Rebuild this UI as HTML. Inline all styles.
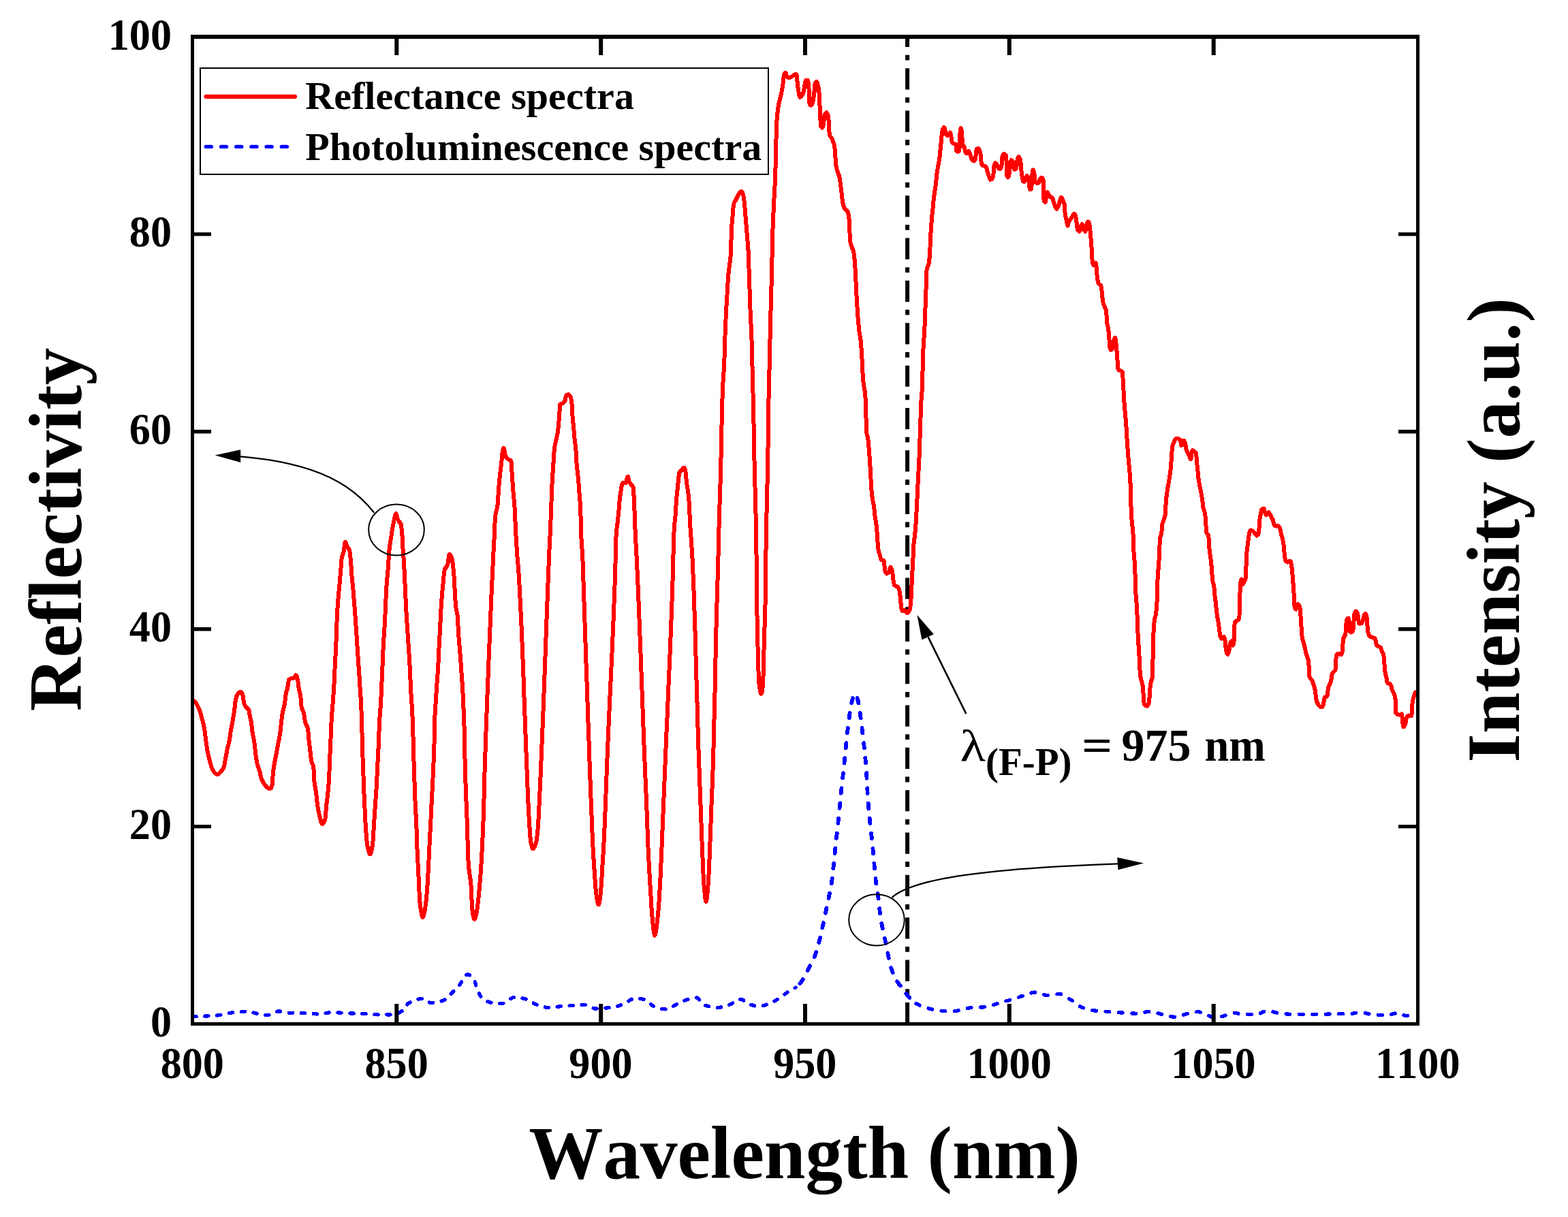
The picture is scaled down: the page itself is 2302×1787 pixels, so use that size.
<!DOCTYPE html>
<html lang="en"><head><meta charset="utf-8"><title>Reflectance and photoluminescence spectra</title>
<style>
html,body{margin:0;padding:0;background:#fff;}
body{width:2302px;height:1787px;overflow:hidden;}
svg{display:block;}
text{font-family:'Liberation Serif','Times New Roman',serif;font-weight:bold;fill:#000;font-kerning:none;}
.tick{font-size:62.2px;}
.leg{font-size:58px;letter-spacing:0.07px;}
.title{font-size:109.2px;}
</style></head><body>
<svg width="2302" height="1787" viewBox="0 0 2302 1787">
<rect x="0" y="0" width="2302" height="1787" fill="#fff"/>
<line x1="1332.1" y1="57" x2="1332.1" y2="1501" stroke="#000" stroke-width="6" stroke-dasharray="31.2 11.6 7.8 11.75" stroke-dashoffset="19.15"/>
<path d="M282.7 1492.6L284.7 1492.6L286.7 1492.6L288.7 1492.6L290.7 1492.6L292.7 1492.5L294.7 1492.4L296.7 1492.3L298.7 1492.2L300.7 1492.1L302.7 1492.0L304.7 1491.9L306.7 1491.8L308.7 1491.7L310.7 1491.5L312.7 1491.4L314.7 1491.3L316.7 1491.1L318.7 1491.0L320.7 1490.8L322.7 1490.6L324.7 1490.3L326.7 1490.0L328.7 1489.6L330.7 1489.2L332.7 1488.7L334.7 1488.2L336.7 1487.7L338.7 1487.3L340.7 1486.9L342.7 1486.6L344.7 1486.4L346.7 1486.2L348.7 1486.0L350.7 1485.9L352.7 1485.7L354.7 1485.6L356.7 1485.4L358.7 1485.3L360.7 1485.3L362.7 1485.2L364.7 1485.2L366.7 1485.5L368.7 1485.9L370.7 1486.5L372.7 1487.1L374.7 1487.7L376.7 1488.3L378.7 1488.8L380.7 1489.1L382.7 1489.4L384.7 1489.7L386.7 1489.9L388.7 1490.2L390.7 1490.3L392.7 1490.4L394.7 1490.4L396.7 1490.0L398.7 1489.2L400.7 1488.1L402.7 1487.1L404.7 1486.1L406.7 1485.3L408.7 1485.0L410.7 1485.0L412.7 1485.3L414.7 1485.7L416.7 1486.2L418.7 1486.6L420.7 1487.0L422.7 1487.3L424.7 1487.4L426.7 1487.5L428.7 1487.5L430.7 1487.5L432.7 1487.5L434.7 1487.6L436.7 1487.6L438.7 1487.6L440.7 1487.6L442.7 1487.6L444.7 1487.6L446.7 1487.7L448.7 1487.7L450.7 1487.8L452.7 1487.9L454.7 1488.1L456.7 1488.3L458.7 1488.4L460.7 1488.6L462.7 1488.8L464.7 1488.9L466.7 1489.0L468.7 1489.1L470.7 1489.0L472.7 1488.8L474.7 1488.5L476.7 1488.1L478.7 1487.6L480.7 1487.2L482.7 1486.9L484.7 1486.6L486.7 1486.6L488.7 1486.6L490.7 1486.7L492.7 1486.8L494.7 1486.9L496.7 1487.0L498.7 1487.1L500.7 1487.2L502.7 1487.3L504.7 1487.4L506.7 1487.5L508.7 1487.6L510.7 1487.7L512.7 1487.8L514.7 1487.9L516.7 1488.0L518.7 1488.1L520.7 1488.1L522.7 1488.2L524.7 1488.2L526.7 1488.3L528.7 1488.3L530.7 1488.4L532.7 1488.4L534.7 1488.5L536.7 1488.6L538.7 1488.7L540.7 1488.9L542.7 1489.0L544.7 1489.2L546.7 1489.4L548.7 1489.6L550.7 1489.7L552.7 1489.8L554.7 1489.9L556.7 1489.9L558.7 1489.9L560.7 1489.9L562.7 1489.9L564.7 1489.9L566.7 1489.9L568.7 1489.9L570.7 1489.9L572.7 1489.9L574.7 1489.9L576.7 1489.9L578.7 1489.7L580.7 1489.3L582.7 1488.6L584.7 1487.7L586.7 1486.6L588.7 1485.4L590.7 1484.2L592.7 1482.1L594.7 1479.3L596.7 1476.3L598.7 1473.9L600.7 1472.5L602.7 1471.4L604.7 1470.4L606.7 1469.5L608.7 1468.7L610.7 1468.0L612.7 1467.4L614.7 1467.0L616.7 1466.7L618.7 1466.5L620.7 1466.7L622.7 1467.5L624.7 1468.6L626.7 1470.0L628.7 1471.2L630.7 1472.1L632.7 1472.6L634.7 1472.5L636.7 1472.4L638.7 1472.2L640.7 1471.9L642.7 1471.5L644.7 1471.0L646.7 1470.5L648.7 1469.9L650.7 1469.3L652.7 1468.4L654.7 1466.9L656.7 1465.0L658.7 1463.0L660.7 1460.8L662.7 1458.8L664.7 1456.8L666.7 1454.8L668.7 1452.8L670.7 1450.7L672.7 1448.4L674.7 1446.1L676.7 1443.2L678.7 1439.8L680.7 1436.5L682.7 1433.5L684.7 1431.5L686.7 1430.8L688.7 1431.3L690.7 1432.6L692.7 1434.6L694.7 1437.0L696.7 1440.1L698.7 1446.5L700.7 1452.4L702.7 1457.0L704.7 1461.3L706.7 1464.6L708.7 1466.7L710.7 1468.0L712.7 1469.1L714.7 1470.1L716.7 1470.9L718.7 1471.6L720.7 1472.1L722.7 1472.5L724.7 1472.7L726.7 1472.9L728.7 1473.0L730.7 1473.2L732.7 1473.3L734.7 1473.3L736.7 1473.4L738.7 1473.4L740.7 1472.9L742.7 1471.8L744.7 1470.4L746.7 1468.9L748.7 1467.3L750.7 1465.9L752.7 1464.9L754.7 1464.4L756.7 1464.4L758.7 1464.5L760.7 1464.7L762.7 1465.0L764.7 1465.4L766.7 1465.8L768.7 1466.2L770.7 1466.7L772.7 1467.3L774.7 1467.9L776.7 1468.9L778.7 1470.1L780.7 1471.4L782.7 1472.7L784.7 1473.8L786.7 1474.7L788.7 1475.5L790.7 1476.2L792.7 1476.9L794.7 1477.6L796.7 1478.2L798.7 1478.7L800.7 1479.1L802.7 1479.4L804.7 1479.5L806.7 1479.4L808.7 1479.3L810.7 1479.2L812.7 1479.0L814.7 1478.7L816.7 1478.5L818.7 1478.2L820.7 1478.0L822.7 1477.8L824.7 1477.6L826.7 1477.4L828.7 1477.2L830.7 1477.1L832.7 1476.9L834.7 1476.7L836.7 1476.6L838.7 1476.4L840.7 1476.3L842.7 1476.2L844.7 1476.1L846.7 1476.0L848.7 1475.9L850.7 1475.8L852.7 1475.7L854.7 1475.6L856.7 1475.6L858.7 1475.6L860.7 1475.9L862.7 1476.6L864.7 1477.5L866.7 1478.5L868.7 1479.4L870.7 1480.3L872.7 1480.9L874.7 1481.1L876.7 1480.8L878.7 1480.6L880.7 1480.5L882.7 1480.4L884.7 1480.3L886.7 1480.2L888.7 1480.1L890.7 1480.0L892.7 1479.8L894.7 1479.7L896.7 1479.4L898.7 1479.1L900.7 1478.8L902.7 1478.3L904.7 1477.9L906.7 1477.3L908.7 1476.8L910.7 1476.2L912.7 1475.5L914.7 1474.9L916.7 1474.1L918.7 1473.1L920.7 1471.7L922.7 1470.3L924.7 1468.8L926.7 1467.5L928.7 1466.6L930.7 1466.0L932.7 1465.9L934.7 1466.0L936.7 1466.2L938.7 1466.4L940.7 1466.6L942.7 1466.9L944.7 1467.3L946.7 1467.7L948.7 1468.7L950.7 1470.1L952.7 1471.9L954.7 1473.7L956.7 1475.5L958.7 1476.9L960.7 1477.9L962.7 1478.6L964.7 1479.4L966.7 1480.1L968.7 1480.7L970.7 1481.2L972.7 1481.6L974.7 1481.8L976.7 1481.9L978.7 1481.6L980.7 1481.1L982.7 1480.3L984.7 1479.3L986.7 1478.2L988.7 1477.1L990.7 1476.0L992.7 1475.0L994.7 1474.1L996.7 1473.2L998.7 1472.2L1000.7 1471.2L1002.7 1470.3L1004.7 1469.3L1006.7 1468.5L1008.7 1467.8L1010.7 1467.3L1012.7 1466.7L1014.7 1466.2L1016.7 1465.7L1018.7 1465.3L1020.7 1465.1L1022.7 1465.0L1024.7 1465.9L1026.7 1468.0L1028.7 1470.6L1030.7 1473.1L1032.7 1475.0L1034.7 1475.9L1036.7 1476.6L1038.7 1477.2L1040.7 1477.8L1042.7 1478.3L1044.7 1478.8L1046.7 1479.1L1048.7 1479.4L1050.7 1479.6L1052.7 1479.6L1054.7 1479.5L1056.7 1479.3L1058.7 1478.9L1060.7 1478.5L1062.7 1477.9L1064.7 1477.3L1066.7 1476.6L1068.7 1476.0L1070.7 1475.3L1072.7 1474.5L1074.7 1473.4L1076.7 1472.3L1078.7 1471.0L1080.7 1469.8L1082.7 1468.8L1084.7 1468.0L1086.7 1467.6L1088.7 1467.6L1090.7 1468.4L1092.7 1469.7L1094.7 1471.2L1096.7 1472.7L1098.7 1473.8L1100.7 1474.6L1102.7 1475.3L1104.7 1476.0L1106.7 1476.6L1108.7 1477.2L1110.7 1477.5L1112.7 1477.7L1114.7 1477.7L1116.7 1477.5L1118.7 1477.1L1120.7 1476.7L1122.7 1476.1L1124.7 1475.4L1126.7 1474.7L1128.7 1474.0L1130.7 1473.3L1132.7 1472.5L1134.7 1471.5L1136.7 1470.3L1138.7 1469.1L1140.7 1467.8L1142.7 1466.5L1144.7 1465.2L1146.7 1463.8L1148.7 1462.4L1150.7 1461.0L1152.7 1459.5L1154.7 1458.1L1156.7 1456.7L1158.7 1455.5L1160.7 1454.4L1162.7 1453.3L1164.7 1452.2L1166.7 1451.0L1168.0 1450.2" fill="none" stroke="#0000ff" stroke-width="5.3" stroke-dasharray="5.3 12.7" stroke-dashoffset="0" stroke-linejoin="round" stroke-linecap="round" shape-rendering="crispEdges"/>
<path d="M1168.0 1450.2L1170.0 1448.7L1172.0 1447.1L1174.0 1444.9L1176.0 1442.2L1178.0 1439.1L1180.0 1435.7L1182.0 1432.2L1184.0 1428.4L1186.0 1424.3L1188.0 1420.1L1190.0 1416.3L1192.0 1412.6L1194.0 1408.7L1196.0 1404.2L1198.0 1398.7L1200.0 1392.3L1202.0 1385.1L1204.0 1377.2L1206.0 1368.4L1208.0 1359.3L1210.0 1350.2L1212.0 1340.6L1214.0 1330.5L1216.0 1320.9L1218.0 1312.2L1220.0 1301.7L1222.0 1287.7L1224.0 1269.2L1226.0 1248.7L1228.0 1229.9L1230.0 1212.2L1232.0 1192.1L1234.0 1172.1L1236.0 1152.1L1238.0 1134.7L1240.0 1115.4L1242.0 1095.0L1244.0 1075.9L1246.0 1059.2L1248.0 1044.3L1250.0 1033.7L1252.0 1024.5L1254.0 1019.1L1256.0 1019.4L1258.0 1023.7L1260.0 1030.2L1262.0 1041.8L1264.0 1057.0L1266.0 1073.3L1268.0 1090.4L1270.0 1109.0L1272.0 1132.3L1274.0 1171.5L1276.0 1195.9L1278.0 1214.6L1280.0 1232.0L1282.0 1251.8L1284.0 1275.4L1286.0 1295.9L1288.0 1308.5L1290.0 1321.9L1292.0 1341.8L1294.0 1354.2L1296.0 1364.4L1298.0 1373.3L1300.0 1382.8L1302.0 1392.9L1304.0 1402.9L1306.0 1412.9L1308.0 1420.7L1310.0 1426.6L1312.0 1431.6L1314.0 1435.8L1316.0 1439.4L1318.0 1442.5L1320.0 1445.1L1322.0 1447.5L1324.0 1450.0L1326.0 1452.7L1328.0 1455.6L1330.0 1458.6L1332.0 1461.3L1334.0 1463.7L1336.0 1465.9L1338.0 1468.0L1340.0 1470.0L1342.0 1471.7L1344.0 1473.1L1345.0 1473.6" fill="none" stroke="#0000ff" stroke-width="5.8" stroke-dasharray="7.6 14.6" stroke-dashoffset="13.29" stroke-linejoin="round" stroke-linecap="round" shape-rendering="crispEdges"/>
<path d="M1345.0 1473.6L1347.0 1474.7L1349.0 1475.7L1351.0 1476.6L1353.0 1477.4L1355.0 1478.1L1357.0 1478.8L1359.0 1479.4L1361.0 1480.0L1363.0 1480.6L1365.0 1481.2L1367.0 1481.7L1369.0 1482.2L1371.0 1482.7L1373.0 1483.1L1375.0 1483.5L1377.0 1483.8L1379.0 1484.1L1381.0 1484.2L1383.0 1484.4L1385.0 1484.5L1387.0 1484.7L1389.0 1484.8L1391.0 1484.9L1393.0 1485.0L1395.0 1485.0L1397.0 1485.0L1399.0 1485.0L1401.0 1484.9L1403.0 1484.6L1405.0 1484.2L1407.0 1483.6L1409.0 1483.1L1411.0 1482.5L1413.0 1481.9L1415.0 1481.4L1417.0 1481.0L1419.0 1480.7L1421.0 1480.4L1423.0 1480.1L1425.0 1479.7L1427.0 1479.5L1429.0 1479.2L1431.0 1479.0L1433.0 1478.8L1435.0 1478.7L1437.0 1478.7L1439.0 1479.0L1441.0 1479.1L1443.0 1479.0L1445.0 1478.7L1447.0 1478.3L1449.0 1477.9L1451.0 1477.5L1453.0 1477.1L1455.0 1476.6L1457.0 1476.0L1459.0 1475.4L1461.0 1474.7L1463.0 1474.0L1465.0 1473.3L1467.0 1472.7L1469.0 1472.1L1471.0 1471.5L1473.0 1471.0L1475.0 1470.5L1477.0 1469.9L1479.0 1469.4L1481.0 1468.9L1483.0 1468.3L1485.0 1467.7L1487.0 1467.1L1489.0 1466.5L1491.0 1465.8L1493.0 1465.2L1495.0 1464.5L1497.0 1463.8L1499.0 1463.1L1501.0 1462.5L1503.0 1461.9L1505.0 1461.2L1507.0 1460.4L1509.0 1459.7L1511.0 1458.9L1513.0 1458.3L1515.0 1457.7L1517.0 1457.3L1519.0 1457.1L1521.0 1457.1L1523.0 1457.4L1525.0 1457.9L1527.0 1458.5L1529.0 1459.3L1531.0 1460.0L1533.0 1460.7L1535.0 1461.2L1537.0 1461.5L1539.0 1461.6L1541.0 1461.4L1543.0 1461.2L1545.0 1460.8L1547.0 1460.4L1549.0 1460.1L1551.0 1459.8L1553.0 1459.6L1555.0 1459.5L1557.0 1459.7L1559.0 1460.3L1561.0 1461.2L1563.0 1462.3L1565.0 1463.5L1567.0 1464.8L1569.0 1466.1L1571.0 1467.4L1573.0 1468.6L1575.0 1470.0L1577.0 1471.6L1579.0 1473.2L1581.0 1474.8L1583.0 1476.3L1585.0 1477.6L1587.0 1478.7L1589.0 1479.5L1591.0 1480.1L1593.0 1480.8L1595.0 1481.4L1597.0 1481.9L1599.0 1482.5L1601.0 1482.9L1603.0 1483.3L1605.0 1483.7L1607.0 1484.0L1609.0 1484.2L1611.0 1484.4L1613.0 1484.6L1615.0 1484.8L1617.0 1484.9L1619.0 1485.1L1621.0 1485.2L1623.0 1485.3L1625.0 1485.4L1627.0 1485.5L1629.0 1485.7L1631.0 1485.8L1633.0 1486.0L1635.0 1486.1L1637.0 1486.3L1639.0 1486.4L1641.0 1486.6L1643.0 1486.7L1645.0 1486.9L1647.0 1487.0L1649.0 1487.1L1651.0 1487.3L1653.0 1487.4L1655.0 1487.5L1657.0 1487.6L1659.0 1487.8L1661.0 1487.9L1663.0 1488.0L1665.0 1488.1L1667.0 1488.2L1669.0 1488.2L1671.0 1488.1L1673.0 1487.9L1675.0 1487.6L1677.0 1487.2L1679.0 1486.8L1681.0 1486.3L1683.0 1485.9L1685.0 1485.6L1687.0 1485.5L1689.0 1485.5L1691.0 1485.7L1693.0 1486.0L1695.0 1486.5L1697.0 1487.0L1699.0 1487.6L1701.0 1488.1L1703.0 1488.7L1705.0 1489.2L1707.0 1489.6L1709.0 1490.1L1711.0 1490.6L1713.0 1491.2L1715.0 1491.7L1717.0 1492.2L1719.0 1492.6L1721.0 1493.0L1723.0 1493.2L1725.0 1493.3L1727.0 1493.3L1729.0 1493.0L1731.0 1492.5L1733.0 1491.8L1735.0 1491.1L1737.0 1490.4L1739.0 1489.7L1741.0 1489.1L1743.0 1488.6L1745.0 1488.1L1747.0 1487.7L1749.0 1487.2L1751.0 1486.7L1753.0 1486.3L1755.0 1486.0L1757.0 1485.8L1759.0 1485.8L1761.0 1486.0L1763.0 1486.5L1765.0 1487.2L1767.0 1488.0L1769.0 1489.0L1771.0 1489.9L1773.0 1490.9L1775.0 1491.7L1777.0 1492.4L1779.0 1493.3L1781.0 1493.9L1783.0 1494.2L1785.0 1494.1L1787.0 1493.9L1789.0 1493.6L1791.0 1493.1L1793.0 1492.7L1795.0 1492.2L1797.0 1491.7L1799.0 1491.1L1801.0 1490.4L1803.0 1489.6L1805.0 1488.8L1807.0 1488.1L1809.0 1487.6L1811.0 1487.3L1813.0 1487.3L1815.0 1487.7L1817.0 1488.1L1819.0 1488.7L1821.0 1489.1L1823.0 1489.4L1825.0 1489.4L1827.0 1489.4L1829.0 1489.4L1831.0 1489.4L1833.0 1489.4L1835.0 1489.4L1837.0 1489.4L1839.0 1489.4L1841.0 1489.4L1843.0 1489.4L1845.0 1489.4L1847.0 1489.1L1849.0 1488.5L1851.0 1487.6L1853.0 1486.6L1855.0 1485.6L1857.0 1484.8L1859.0 1484.3L1861.0 1484.3L1863.0 1484.5L1865.0 1484.8L1867.0 1485.3L1869.0 1485.8L1871.0 1486.3L1873.0 1486.9L1875.0 1487.3L1877.0 1487.7L1879.0 1488.0L1881.0 1488.2L1883.0 1488.4L1885.0 1488.6L1887.0 1488.8L1889.0 1489.0L1891.0 1489.1L1893.0 1489.3L1895.0 1489.4L1897.0 1489.4L1899.0 1489.4L1901.0 1489.4L1903.0 1489.4L1905.0 1489.4L1907.0 1489.4L1909.0 1489.4L1911.0 1489.4L1913.0 1489.4L1915.0 1489.4L1917.0 1489.4L1919.0 1489.4L1921.0 1489.4L1923.0 1489.4L1925.0 1489.4L1927.0 1489.4L1929.0 1489.4L1931.0 1489.4L1933.0 1489.4L1935.0 1489.4L1937.0 1489.4L1939.0 1489.4L1941.0 1489.4L1943.0 1489.4L1945.0 1489.3L1947.0 1489.2L1949.0 1489.1L1951.0 1489.0L1953.0 1489.0L1955.0 1488.9L1957.0 1488.8L1959.0 1488.8L1961.0 1488.8L1963.0 1488.8L1965.0 1488.8L1967.0 1488.8L1969.0 1488.8L1971.0 1488.8L1973.0 1488.8L1975.0 1488.8L1977.0 1488.8L1979.0 1488.8L1981.0 1488.7L1983.0 1488.6L1985.0 1488.3L1987.0 1488.0L1989.0 1487.6L1991.0 1487.3L1993.0 1487.0L1995.0 1486.8L1997.0 1486.7L1999.0 1486.7L2001.0 1486.9L2003.0 1487.3L2005.0 1487.7L2007.0 1488.2L2009.0 1488.7L2011.0 1489.2L2013.0 1489.7L2015.0 1490.0L2017.0 1490.2L2019.0 1490.3L2021.0 1490.3L2023.0 1490.3L2025.0 1490.3L2027.0 1490.3L2029.0 1490.3L2031.0 1490.3L2033.0 1490.3L2035.0 1490.3L2037.0 1490.3L2039.0 1490.2L2041.0 1489.8L2043.0 1489.4L2045.0 1488.8L2047.0 1488.3L2049.0 1487.8L2051.0 1487.5L2053.0 1487.3L2055.0 1487.6L2057.0 1488.6L2059.0 1489.9L2061.0 1490.9L2063.0 1491.2L2065.0 1491.2L2067.0 1491.2L2069.0 1491.2L2071.0 1491.2L2073.0 1491.2L2075.0 1491.2L2077.0 1491.2L2077.7 1491.2" fill="none" stroke="#0000ff" stroke-width="5.3" stroke-dasharray="5.8 13.6" stroke-dashoffset="0" stroke-linejoin="round" stroke-linecap="round" shape-rendering="crispEdges"/>
<path d="M283.6 1028.5L286.1 1030.3L287.9 1032.6L289.4 1035.2L290.8 1037.9L292.1 1040.6L293.1 1043.4L294.1 1046.2L294.9 1049.1L295.6 1052.0L296.3 1055.0L297.2 1057.8L298.1 1060.7L298.7 1063.6L299.3 1066.6L299.9 1069.5L300.4 1072.5L300.8 1075.4L301.2 1078.4L301.6 1081.4L301.9 1084.4L302.3 1087.4L302.7 1090.3L303.1 1093.3L303.6 1096.3L304.0 1099.2L304.5 1102.2L305.1 1105.1L305.7 1108.1L306.3 1111.0L307.1 1113.9L307.8 1116.8L308.6 1119.7L309.4 1122.6L310.3 1125.5L311.3 1128.3L312.6 1131.1L314.2 1133.7L316.3 1135.8L319.0 1137.3L321.3 1136.5L323.4 1133.9L325.5 1131.5L327.5 1129.2L328.6 1126.6L329.4 1123.8L329.9 1120.8L330.4 1117.7L331.0 1114.7L331.5 1111.8L332.1 1108.8L332.6 1105.9L333.1 1102.9L333.7 1100.0L334.4 1097.0L335.2 1094.1L336.0 1091.2L336.6 1088.3L337.1 1085.4L337.5 1082.4L337.9 1079.4L338.3 1076.4L338.8 1073.5L339.3 1070.5L339.9 1067.6L340.5 1064.6L341.0 1061.7L341.6 1058.7L342.1 1055.8L342.5 1052.8L343.0 1049.9L343.5 1046.9L343.9 1043.9L344.3 1040.9L344.7 1037.9L345.0 1034.9L345.3 1031.9L345.7 1029.0L346.3 1026.1L347.1 1023.1L348.3 1020.3L350.1 1017.8L352.6 1015.8L354.5 1016.5L356.0 1019.7L356.8 1022.7L357.3 1025.7L357.6 1028.7L358.1 1031.7L359.0 1034.5L360.5 1037.2L362.4 1039.5L364.7 1041.5L365.6 1044.1L366.1 1047.1L366.6 1050.2L367.2 1053.2L367.9 1056.1L368.6 1059.0L369.0 1062.0L369.4 1065.0L369.7 1067.9L370.1 1070.9L370.4 1073.9L370.9 1076.9L371.5 1079.8L372.1 1082.8L372.7 1085.7L373.2 1088.7L373.6 1091.6L374.0 1094.6L374.3 1097.6L374.6 1100.6L374.9 1103.6L375.2 1106.5L375.6 1109.5L376.0 1112.5L376.5 1115.5L377.0 1118.4L377.6 1121.4L378.3 1124.2L379.3 1127.1L380.4 1129.9L381.3 1132.8L382.0 1135.7L382.6 1138.6L383.3 1141.6L384.3 1144.4L385.6 1147.1L387.0 1149.7L388.7 1152.3L390.6 1154.7L392.8 1156.6L395.8 1158.0L397.7 1157.5L399.0 1154.5L399.8 1151.0L400.1 1148.0L400.3 1145.1L400.4 1142.0L400.6 1139.0L400.8 1136.0L401.1 1133.0L401.5 1130.0L401.9 1127.1L402.4 1124.1L402.9 1121.1L403.4 1118.2L404.0 1115.2L404.5 1112.3L405.1 1109.3L405.7 1106.4L406.2 1103.5L406.8 1100.5L407.3 1097.6L407.9 1094.6L408.4 1091.7L409.0 1088.7L409.6 1085.8L410.2 1082.8L410.7 1079.9L411.2 1076.9L411.6 1073.9L411.9 1071.0L412.2 1068.0L412.5 1065.0L412.8 1062.0L413.2 1059.0L413.5 1056.0L413.9 1053.1L414.3 1050.1L414.7 1047.1L415.3 1044.2L416.1 1041.3L416.9 1038.4L417.6 1035.5L418.1 1032.5L418.5 1029.5L418.8 1026.6L419.1 1023.6L419.5 1020.6L420.0 1017.6L420.8 1014.7L421.6 1011.8L422.3 1008.9L422.9 1005.8L423.3 1002.4L423.8 999.4L424.6 997.4L427.5 996.0L430.7 995.8L432.9 994.7L434.1 991.3L435.3 992.1L436.4 995.5L437.1 998.9L437.6 1001.8L437.9 1004.8L438.3 1007.8L438.7 1010.8L439.3 1013.7L440.1 1016.7L440.8 1019.6L441.3 1022.5L441.6 1025.5L441.9 1028.5L442.1 1031.5L442.3 1034.5L442.6 1037.5L443.2 1040.3L444.4 1043.1L445.6 1045.9L446.3 1048.8L446.8 1051.8L447.2 1054.8L447.6 1057.8L448.2 1060.7L449.3 1063.5L450.7 1066.2L451.7 1069.0L452.2 1071.9L452.5 1074.9L452.8 1077.9L453.0 1080.9L453.2 1083.9L453.5 1086.9L453.8 1089.9L454.2 1092.9L454.6 1095.8L455.0 1098.8L455.3 1101.8L455.7 1104.8L456.0 1107.8L456.3 1110.8L456.7 1113.8L457.1 1116.7L457.7 1119.6L459.0 1122.4L460.1 1125.2L460.4 1128.1L460.6 1131.0L460.8 1134.1L460.8 1137.1L461.0 1140.1L461.1 1143.1L461.3 1146.1L461.7 1149.1L462.1 1152.1L462.6 1155.0L463.1 1158.0L463.6 1160.9L464.1 1163.9L464.4 1166.9L464.7 1169.9L465.0 1172.9L465.3 1175.9L465.7 1178.8L466.1 1181.8L466.5 1184.8L467.0 1187.7L467.6 1190.7L468.2 1193.6L468.9 1196.5L469.7 1200.0L470.6 1203.8L471.5 1207.2L472.6 1209.5L473.8 1210.0L475.5 1207.7L477.0 1204.4L477.6 1201.5L477.9 1198.6L478.2 1195.6L478.4 1192.6L478.6 1189.5L478.8 1186.5L479.1 1183.4L479.4 1180.5L479.8 1177.5L480.2 1174.5L480.6 1171.5L480.9 1168.6L481.2 1165.6L481.5 1162.6L481.8 1159.6L482.1 1156.6L482.3 1153.6L482.6 1150.6L482.8 1147.6L482.9 1144.6L483.1 1141.6L483.2 1138.6L483.4 1135.7L483.5 1132.7L483.6 1129.7L483.7 1126.7L483.8 1123.7L483.9 1120.7L484.1 1117.7L484.2 1114.7L484.3 1111.7L484.4 1108.7L484.6 1105.7L484.7 1102.7L484.8 1099.7L484.9 1096.7L485.1 1093.7L485.2 1090.7L485.4 1087.7L485.5 1084.7L485.6 1081.7L485.8 1078.7L485.9 1075.7L486.0 1072.7L486.1 1069.7L486.2 1066.7L486.3 1063.7L486.5 1060.7L486.6 1057.7L486.8 1054.7L487.0 1051.7L487.3 1048.7L487.5 1045.8L487.8 1042.8L488.0 1039.8L488.3 1036.8L488.5 1033.8L488.7 1030.8L488.9 1027.8L489.1 1024.8L489.4 1021.8L489.6 1018.8L489.8 1015.8L490.0 1012.8L490.1 1009.8L490.3 1006.9L490.5 1003.9L490.7 1000.9L490.8 997.9L490.9 994.9L491.1 991.9L491.2 988.9L491.3 985.9L491.5 982.9L491.6 979.9L491.7 976.9L491.9 973.9L492.1 970.9L492.2 967.9L492.4 964.9L492.6 961.9L492.7 958.9L492.9 955.9L493.1 952.9L493.2 949.9L493.3 946.9L493.4 943.9L493.6 940.9L493.6 937.9L493.7 934.9L493.8 931.9L493.9 928.9L494.0 925.9L494.1 922.9L494.2 919.9L494.3 916.9L494.5 913.9L494.6 910.9L494.7 908.0L494.8 905.0L495.0 902.0L495.1 899.0L495.3 896.0L495.5 893.0L495.6 890.0L495.8 887.0L496.1 884.0L496.3 881.0L496.6 878.0L496.8 875.0L497.1 872.0L497.4 869.0L497.7 866.1L498.0 863.1L498.3 860.1L498.6 857.1L498.9 854.1L499.2 851.1L499.4 848.1L499.6 845.2L499.9 842.2L500.1 839.2L500.3 836.2L500.6 833.2L500.8 830.2L501.0 827.2L501.2 824.2L501.5 821.2L502.0 818.3L502.8 815.4L503.8 812.6L504.7 809.7L505.2 806.2L505.6 802.3L506.0 798.7L506.5 796.3L507.1 795.9L508.1 798.6L509.3 802.1L511.0 804.6L512.8 807.1L513.5 809.8L513.9 812.7L514.3 815.7L514.5 818.7L514.8 821.8L515.0 824.8L515.2 827.8L515.5 830.8L515.6 833.8L515.8 836.8L516.0 839.8L516.3 842.8L516.5 845.8L516.8 848.8L517.1 851.8L517.4 854.7L517.7 857.7L518.0 860.7L518.3 863.7L518.6 866.7L518.8 869.7L519.0 872.7L519.3 875.7L519.5 878.6L519.7 881.6L520.0 884.6L520.2 887.6L520.5 890.6L520.7 893.6L520.9 896.6L521.2 899.6L521.4 902.6L521.6 905.6L521.8 908.6L522.0 911.6L522.2 914.5L522.4 917.5L522.6 920.5L522.9 923.5L523.1 926.5L523.3 929.5L523.5 932.5L523.7 935.5L523.9 938.5L524.1 941.5L524.3 944.5L524.4 947.5L524.6 950.5L524.8 953.5L525.0 956.5L525.2 959.4L525.4 962.4L525.6 965.4L525.8 968.4L526.0 971.4L526.2 974.4L526.4 977.4L526.7 980.4L526.9 983.4L527.1 986.4L527.3 989.4L527.5 992.4L527.7 995.4L527.9 998.4L528.1 1001.3L528.2 1004.3L528.4 1007.3L528.6 1010.3L528.8 1013.3L529.0 1016.3L529.2 1019.3L529.4 1022.3L529.7 1025.3L529.9 1028.3L530.0 1031.3L530.2 1034.3L530.3 1037.3L530.4 1040.3L530.5 1043.3L530.6 1046.3L530.7 1049.3L530.8 1052.3L530.9 1055.3L531.0 1058.3L531.1 1061.3L531.2 1064.3L531.3 1067.3L531.3 1070.3L531.4 1073.3L531.5 1076.3L531.5 1079.3L531.6 1082.3L531.7 1085.3L531.7 1088.3L531.8 1091.3L531.9 1094.3L532.0 1097.3L532.1 1100.3L532.2 1103.3L532.3 1106.2L532.4 1109.2L532.5 1112.2L532.6 1115.2L532.7 1118.2L532.8 1121.2L532.9 1124.2L533.0 1127.2L533.1 1130.2L533.2 1133.2L533.3 1136.2L533.5 1139.2L533.6 1142.2L533.7 1145.2L533.8 1148.2L533.9 1151.2L534.0 1154.2L534.2 1157.2L534.3 1160.2L534.4 1163.2L534.5 1166.2L534.7 1169.2L534.8 1172.2L534.9 1175.2L535.1 1178.2L535.2 1181.2L535.3 1184.2L535.5 1187.2L535.6 1190.2L535.7 1193.2L535.9 1196.2L536.0 1199.2L536.2 1202.2L536.4 1205.2L536.5 1208.2L536.7 1211.2L536.9 1214.2L537.1 1217.2L537.3 1220.2L537.5 1223.2L537.7 1226.2L537.9 1229.2L538.2 1232.2L538.5 1235.1L538.8 1238.1L539.3 1241.2L540.0 1244.9L540.9 1248.7L541.8 1251.9L542.8 1254.0L543.6 1254.3L544.4 1252.7L545.3 1249.7L546.1 1246.0L546.7 1242.2L547.2 1238.9L547.4 1235.9L547.7 1232.9L547.9 1230.0L548.1 1227.0L548.3 1224.0L548.4 1220.9L548.6 1217.9L548.7 1214.9L548.9 1211.9L549.1 1208.9L549.3 1205.9L549.5 1203.0L549.7 1200.0L549.9 1197.0L550.1 1194.0L550.3 1191.0L550.5 1188.0L550.7 1185.0L550.9 1182.0L551.1 1179.0L551.3 1176.0L551.5 1173.0L551.8 1170.0L552.0 1167.0L552.2 1164.0L552.4 1161.0L552.6 1158.1L552.7 1155.1L552.9 1152.1L553.0 1149.1L553.2 1146.1L553.3 1143.1L553.5 1140.1L553.6 1137.1L553.7 1134.1L553.8 1131.1L554.0 1128.1L554.1 1125.1L554.3 1122.1L554.5 1119.1L554.6 1116.1L554.8 1113.1L555.0 1110.1L555.1 1107.1L555.3 1104.1L555.4 1101.1L555.6 1098.1L555.7 1095.1L555.8 1092.1L556.0 1089.1L556.1 1086.1L556.2 1083.1L556.3 1080.1L556.4 1077.1L556.5 1074.1L556.6 1071.1L556.7 1068.1L556.9 1065.2L557.0 1062.2L557.2 1059.2L557.3 1056.2L557.5 1053.2L557.7 1050.2L558.0 1047.2L558.2 1044.2L558.4 1041.2L558.6 1038.2L558.8 1035.2L559.0 1032.2L559.2 1029.2L559.3 1026.2L559.5 1023.2L559.6 1020.2L559.7 1017.2L559.9 1014.2L560.0 1011.2L560.1 1008.3L560.3 1005.3L560.4 1002.3L560.6 999.3L560.7 996.3L560.8 993.3L561.0 990.3L561.1 987.3L561.3 984.3L561.4 981.3L561.5 978.3L561.7 975.3L561.8 972.3L561.9 969.3L562.0 966.3L562.1 963.3L562.2 960.3L562.3 957.3L562.5 954.3L562.6 951.3L562.7 948.3L562.9 945.3L563.1 942.3L563.3 939.3L563.5 936.3L563.7 933.3L563.9 930.3L564.1 927.4L564.3 924.4L564.5 921.4L564.7 918.4L564.9 915.4L565.0 912.4L565.2 909.4L565.3 906.4L565.4 903.4L565.6 900.4L565.7 897.4L565.8 894.4L566.0 891.4L566.1 888.4L566.2 885.4L566.4 882.4L566.5 879.4L566.6 876.4L566.7 873.4L566.9 870.4L567.0 867.4L567.2 864.4L567.4 861.4L567.6 858.4L567.8 855.5L568.1 852.5L568.4 849.5L568.7 846.5L569.0 843.5L569.2 840.5L569.5 837.5L569.7 834.5L570.0 831.5L570.1 828.6L570.3 825.6L570.5 822.6L570.7 819.6L570.8 816.6L571.0 813.6L571.3 810.6L571.5 807.6L571.8 804.6L572.2 801.6L572.6 798.7L573.1 795.7L573.6 792.7L574.1 789.8L574.5 786.8L575.0 783.9L575.4 780.9L575.9 777.9L576.4 775.0L576.9 772.0L577.5 769.0L578.2 765.4L579.0 761.6L579.7 758.0L580.5 755.4L581.3 754.2L582.1 755.4L582.9 758.9L583.8 762.4L585.3 765.0L587.3 767.5L588.6 770.1L589.1 772.8L589.5 775.8L589.9 778.8L590.1 781.9L590.4 784.9L590.6 787.9L590.7 790.9L590.9 793.9L591.0 796.9L591.1 799.9L591.3 802.9L591.5 805.9L591.7 808.9L591.9 811.9L592.2 814.9L592.4 817.9L592.7 820.9L592.9 823.9L593.1 826.8L593.2 829.8L593.4 832.8L593.5 835.8L593.7 838.8L593.8 841.8L593.9 844.8L594.1 847.8L594.2 850.8L594.3 853.8L594.5 856.8L594.6 859.8L594.7 862.8L594.9 865.8L595.0 868.8L595.1 871.8L595.3 874.8L595.4 877.8L595.6 880.8L595.7 883.8L595.9 886.8L596.0 889.8L596.2 892.8L596.3 895.8L596.5 898.8L596.7 901.8L596.8 904.8L597.0 907.8L597.2 910.7L597.4 913.7L597.6 916.7L597.7 919.7L598.0 922.7L598.2 925.7L598.4 928.7L598.6 931.7L598.8 934.7L599.0 937.7L599.2 940.7L599.4 943.7L599.6 946.7L599.8 949.7L600.0 952.7L600.2 955.6L600.4 958.6L600.6 961.6L600.8 964.6L601.0 967.6L601.1 970.6L601.3 973.6L601.5 976.6L601.6 979.6L601.8 982.6L601.9 985.6L602.1 988.6L602.2 991.6L602.4 994.6L602.5 997.6L602.7 1000.6L602.8 1003.6L602.9 1006.6L603.1 1009.6L603.2 1012.6L603.3 1015.6L603.5 1018.6L603.6 1021.6L603.8 1024.5L604.0 1027.5L604.2 1030.5L604.5 1033.5L604.7 1036.5L604.9 1039.5L605.1 1042.5L605.2 1045.5L605.4 1048.5L605.5 1051.5L605.6 1054.5L605.7 1057.5L605.8 1060.5L605.9 1063.5L606.0 1066.5L606.1 1069.5L606.2 1072.5L606.3 1075.5L606.4 1078.5L606.5 1081.5L606.6 1084.5L606.6 1087.5L606.7 1090.5L606.8 1093.5L606.9 1096.5L607.0 1099.5L607.1 1102.5L607.2 1105.5L607.3 1108.5L607.3 1111.5L607.4 1114.5L607.5 1117.5L607.6 1120.5L607.7 1123.5L607.8 1126.5L607.9 1129.5L608.0 1132.5L608.1 1135.5L608.2 1138.5L608.3 1141.5L608.4 1144.4L608.5 1147.4L608.6 1150.4L608.7 1153.4L608.8 1156.4L608.9 1159.4L609.0 1162.4L609.1 1165.4L609.2 1168.4L609.3 1171.4L609.4 1174.4L609.6 1177.4L609.7 1180.4L609.9 1183.4L610.0 1186.4L610.2 1189.4L610.4 1192.4L610.5 1195.4L610.7 1198.4L610.8 1201.4L611.0 1204.4L611.1 1207.4L611.3 1210.4L611.4 1213.4L611.5 1216.4L611.6 1219.4L611.7 1222.4L611.8 1225.4L611.9 1228.4L612.0 1231.4L612.1 1234.4L612.2 1237.4L612.3 1240.4L612.4 1243.4L612.5 1246.4L612.6 1249.4L612.8 1252.4L612.9 1255.4L613.0 1258.4L613.2 1261.3L613.3 1264.3L613.5 1267.3L613.6 1270.3L613.8 1273.3L614.0 1276.3L614.1 1279.3L614.3 1282.3L614.4 1285.3L614.6 1288.3L614.7 1291.3L614.8 1294.3L615.0 1297.3L615.1 1300.3L615.2 1303.3L615.3 1306.3L615.5 1309.3L615.6 1312.3L615.8 1315.3L615.9 1318.3L616.1 1321.3L616.4 1324.3L616.7 1327.6L617.2 1331.3L617.7 1335.2L618.3 1339.0L619.0 1342.4L619.7 1345.0L620.3 1346.6L620.9 1346.9L621.6 1345.7L622.2 1343.5L622.9 1340.4L623.6 1336.8L624.3 1332.9L624.8 1329.0L625.3 1325.5L625.6 1322.5L625.9 1319.5L626.2 1316.5L626.5 1313.6L626.7 1310.6L627.0 1307.6L627.2 1304.6L627.4 1301.6L627.6 1298.6L627.7 1295.6L627.9 1292.6L628.1 1289.6L628.3 1286.6L628.4 1283.6L628.6 1280.6L628.8 1277.6L628.9 1274.6L629.1 1271.6L629.2 1268.6L629.4 1265.6L629.5 1262.6L629.6 1259.6L629.8 1256.6L629.9 1253.6L630.1 1250.6L630.2 1247.6L630.4 1244.6L630.5 1241.6L630.7 1238.6L630.8 1235.6L631.0 1232.7L631.1 1229.7L631.3 1226.7L631.4 1223.7L631.6 1220.7L631.7 1217.7L631.9 1214.7L632.0 1211.7L632.2 1208.7L632.3 1205.7L632.5 1202.7L632.6 1199.7L632.8 1196.7L632.9 1193.7L633.1 1190.7L633.2 1187.7L633.4 1184.7L633.5 1181.7L633.7 1178.7L633.8 1175.7L634.0 1172.7L634.1 1169.7L634.3 1166.7L634.4 1163.7L634.6 1160.7L634.7 1157.7L634.9 1154.7L635.0 1151.8L635.2 1148.8L635.3 1145.8L635.5 1142.8L635.6 1139.8L635.8 1136.8L635.9 1133.8L636.0 1130.8L636.2 1127.8L636.3 1124.8L636.4 1121.8L636.6 1118.8L636.7 1115.8L636.8 1112.8L636.9 1109.8L637.0 1106.8L637.2 1103.8L637.2 1100.8L637.3 1097.8L637.4 1094.8L637.5 1091.8L637.5 1088.8L637.6 1085.8L637.6 1082.8L637.7 1079.8L637.7 1076.8L637.8 1073.8L637.8 1070.8L637.9 1067.8L638.0 1064.8L638.0 1061.8L638.1 1058.8L638.2 1055.8L638.4 1052.8L638.5 1049.8L638.7 1046.8L638.9 1043.8L639.1 1040.8L639.3 1037.8L639.5 1034.8L639.6 1031.9L639.8 1028.9L640.0 1025.9L640.2 1022.9L640.4 1019.9L640.6 1016.9L640.8 1013.9L641.0 1010.9L641.2 1007.9L641.4 1004.9L641.6 1001.9L641.9 998.9L642.1 995.9L642.3 992.9L642.5 989.9L642.7 987.0L642.9 984.0L643.1 981.0L643.3 978.0L643.4 975.0L643.6 972.0L643.7 969.0L643.9 966.0L644.0 963.0L644.1 960.0L644.3 957.0L644.4 954.0L644.5 951.0L644.7 948.0L644.8 945.0L645.0 942.0L645.1 939.0L645.3 936.0L645.5 933.0L645.6 930.0L645.8 927.0L645.9 924.0L646.1 921.0L646.3 918.0L646.4 915.1L646.6 912.1L646.7 909.1L646.9 906.1L647.0 903.1L647.2 900.1L647.4 897.1L647.5 894.1L647.7 891.1L647.9 888.1L648.1 885.1L648.3 882.1L648.5 879.1L648.7 876.1L649.0 873.1L649.2 870.1L649.5 867.2L649.8 864.2L650.1 861.2L650.4 858.2L650.7 855.2L651.0 852.2L651.3 849.2L651.5 846.1L651.8 843.0L652.1 840.1L652.6 837.2L653.6 834.6L655.6 832.2L656.9 829.5L657.7 826.1L658.3 822.2L658.8 818.5L659.3 815.5L660.0 813.8L661.1 814.3L662.6 817.5L663.5 820.6L664.1 823.5L664.5 826.5L664.9 829.5L665.3 832.5L665.6 835.5L665.9 838.5L666.1 841.5L666.4 844.5L666.6 847.5L666.8 850.5L667.0 853.4L667.1 856.4L667.3 859.4L667.4 862.4L667.6 865.4L667.7 868.4L667.9 871.4L668.0 874.4L668.2 877.4L668.4 880.4L668.6 883.4L668.8 886.4L669.1 889.4L669.4 892.4L670.0 895.3L670.6 898.3L671.3 901.2L671.7 904.2L671.9 907.1L672.1 910.1L672.3 913.1L672.4 916.1L672.5 919.1L672.7 922.1L672.8 925.1L673.0 928.1L673.2 931.1L673.4 934.1L673.6 937.1L673.9 940.1L674.1 943.1L674.4 946.1L674.6 949.1L674.9 952.0L675.1 955.0L675.4 958.0L675.6 961.0L675.8 964.0L676.1 967.0L676.3 970.0L676.5 973.0L676.7 976.0L676.9 979.0L677.1 982.0L677.3 985.0L677.5 987.9L677.7 990.9L678.0 993.9L678.2 996.9L678.4 999.9L678.6 1002.9L678.8 1005.9L679.0 1008.9L679.2 1011.9L679.3 1014.9L679.5 1017.9L679.7 1020.9L679.8 1023.9L680.0 1026.9L680.1 1029.9L680.2 1032.9L680.3 1035.9L680.4 1038.9L680.6 1041.9L680.7 1044.9L680.8 1047.9L681.0 1050.8L681.1 1053.8L681.2 1056.8L681.3 1059.8L681.4 1062.8L681.5 1065.8L681.6 1068.8L681.6 1071.8L681.7 1074.8L681.8 1077.8L681.9 1080.8L681.9 1083.8L682.0 1086.8L682.0 1089.8L682.1 1092.8L682.2 1095.8L682.2 1098.8L682.3 1101.8L682.3 1104.8L682.4 1107.8L682.4 1110.8L682.5 1113.8L682.6 1116.8L682.6 1119.8L682.7 1122.8L682.8 1125.8L682.8 1128.8L682.9 1131.8L683.0 1134.8L683.1 1137.8L683.2 1140.8L683.3 1143.8L683.4 1146.8L683.5 1149.8L683.6 1152.8L683.7 1155.8L683.8 1158.8L683.9 1161.8L684.0 1164.8L684.1 1167.8L684.3 1170.8L684.4 1173.8L684.5 1176.8L684.6 1179.8L684.7 1182.8L684.9 1185.8L685.0 1188.8L685.1 1191.8L685.2 1194.8L685.4 1197.8L685.5 1200.8L685.6 1203.8L685.7 1206.8L685.8 1209.8L685.9 1212.8L686.0 1215.8L686.1 1218.8L686.2 1221.8L686.3 1224.8L686.3 1227.8L686.4 1230.8L686.5 1233.8L686.6 1236.8L686.7 1239.8L686.8 1242.8L686.8 1245.8L686.9 1248.8L687.0 1251.8L687.1 1254.8L687.3 1257.8L687.4 1260.8L687.5 1263.7L687.7 1266.7L687.9 1269.7L688.1 1272.7L688.4 1275.7L688.8 1278.7L689.2 1281.6L689.6 1284.6L690.0 1287.6L690.5 1290.6L690.8 1293.6L691.2 1296.5L691.5 1299.5L691.7 1302.5L691.9 1305.5L692.0 1308.5L692.2 1311.5L692.3 1314.5L692.4 1317.5L692.5 1320.5L692.6 1323.5L692.7 1326.5L692.9 1329.5L693.1 1332.5L693.4 1335.5L693.8 1339.1L694.4 1342.9L695.1 1346.4L695.9 1348.9L696.7 1349.6L697.9 1347.2L698.9 1343.6L699.6 1340.7L700.1 1337.8L700.5 1334.8L700.9 1331.8L701.3 1328.8L701.6 1325.8L702.0 1322.8L702.3 1319.8L702.6 1316.9L702.9 1313.9L703.2 1310.9L703.5 1307.9L703.8 1304.9L704.0 1301.9L704.3 1298.9L704.5 1295.9L704.8 1293.0L705.0 1290.0L705.3 1287.0L705.5 1284.0L705.7 1281.0L705.9 1278.0L706.1 1275.0L706.3 1272.0L706.5 1269.0L706.7 1266.0L706.9 1263.0L707.0 1260.0L707.2 1257.0L707.4 1254.0L707.5 1251.0L707.7 1248.1L707.8 1245.1L708.0 1242.1L708.1 1239.1L708.3 1236.1L708.4 1233.1L708.5 1230.1L708.7 1227.1L708.8 1224.1L708.9 1221.1L709.0 1218.1L709.2 1215.1L709.3 1212.1L709.4 1209.1L709.5 1206.1L709.6 1203.1L709.7 1200.1L709.8 1197.1L709.9 1194.1L709.9 1191.1L710.0 1188.1L710.1 1185.1L710.2 1182.1L710.3 1179.1L710.4 1176.1L710.5 1173.1L710.5 1170.1L710.6 1167.1L710.7 1164.1L710.8 1161.1L710.9 1158.1L710.9 1155.1L711.0 1152.1L711.1 1149.1L711.2 1146.1L711.3 1143.1L711.4 1140.1L711.4 1137.1L711.5 1134.1L711.6 1131.1L711.7 1128.1L711.8 1125.1L711.9 1122.1L712.0 1119.1L712.1 1116.1L712.2 1113.1L712.3 1110.1L712.4 1107.1L712.5 1104.1L712.6 1101.1L712.7 1098.1L712.8 1095.1L712.9 1092.1L713.0 1089.1L713.1 1086.1L713.2 1083.1L713.3 1080.2L713.4 1077.2L713.5 1074.2L713.7 1071.2L713.8 1068.2L713.9 1065.2L714.0 1062.2L714.1 1059.2L714.2 1056.2L714.3 1053.2L714.4 1050.2L714.5 1047.2L714.6 1044.2L714.7 1041.2L714.8 1038.2L715.0 1035.2L715.1 1032.2L715.2 1029.2L715.3 1026.2L715.4 1023.2L715.5 1020.2L715.6 1017.2L715.7 1014.2L715.9 1011.2L716.0 1008.2L716.1 1005.2L716.2 1002.2L716.3 999.2L716.4 996.2L716.6 993.2L716.7 990.2L716.8 987.2L716.9 984.2L717.0 981.2L717.1 978.2L717.3 975.2L717.4 972.2L717.5 969.2L717.6 966.2L717.7 963.2L717.9 960.2L718.0 957.2L718.1 954.2L718.2 951.2L718.3 948.2L718.5 945.2L718.6 942.2L718.7 939.3L718.8 936.3L719.0 933.3L719.1 930.3L719.2 927.3L719.3 924.3L719.5 921.3L719.6 918.3L719.7 915.3L719.8 912.3L720.0 909.3L720.1 906.3L720.2 903.3L720.4 900.3L720.5 897.3L720.6 894.3L720.8 891.3L720.9 888.3L721.0 885.3L721.1 882.3L721.3 879.3L721.4 876.3L721.5 873.3L721.7 870.3L721.8 867.3L721.9 864.3L722.1 861.3L722.2 858.3L722.3 855.3L722.5 852.3L722.6 849.3L722.8 846.3L722.9 843.3L723.0 840.3L723.2 837.3L723.3 834.4L723.5 831.4L723.6 828.4L723.8 825.4L723.9 822.4L724.1 819.4L724.2 816.4L724.4 813.4L724.5 810.4L724.7 807.4L724.8 804.4L725.0 801.4L725.2 798.4L725.3 795.4L725.5 792.4L725.6 789.4L725.7 786.4L725.9 783.4L726.0 780.4L726.1 777.4L726.2 774.4L726.3 771.4L726.5 768.4L726.7 765.4L726.8 762.4L727.1 759.4L727.4 756.5L727.9 753.5L728.6 750.6L729.4 747.7L730.0 744.7L730.5 741.8L730.8 738.8L731.0 735.8L731.2 732.8L731.3 729.8L731.5 726.8L731.7 723.8L731.9 720.8L732.1 717.8L732.3 714.8L732.6 711.9L732.8 708.9L733.1 705.9L733.4 702.9L733.8 699.9L734.1 696.9L734.4 693.9L734.7 691.0L735.1 688.0L735.5 685.0L735.8 682.0L736.2 679.1L736.5 676.1L736.8 673.1L737.1 670.1L737.3 667.1L737.7 664.1L738.2 661.0L739.3 657.8L740.0 658.2L740.5 661.2L741.1 665.1L741.8 668.3L743.0 671.2L744.8 673.4L747.4 675.0L749.9 675.9L750.4 677.8L750.8 680.6L751.0 684.0L751.2 687.6L751.4 691.0L751.6 694.1L751.8 697.0L752.0 700.0L752.2 703.0L752.4 706.0L752.6 709.0L752.8 712.0L753.0 715.0L753.2 718.0L753.4 721.0L753.7 724.0L754.0 727.0L754.3 730.0L754.5 732.9L754.8 735.9L755.1 738.9L755.3 741.9L755.5 744.9L755.6 747.9L755.8 750.9L756.0 753.9L756.1 756.9L756.3 759.9L756.4 762.9L756.5 765.9L756.7 768.9L756.8 771.9L757.0 774.9L757.1 777.9L757.2 780.9L757.4 783.9L757.5 786.9L757.7 789.9L757.8 792.8L758.0 795.8L758.2 798.8L758.4 801.8L758.6 804.8L758.8 807.8L759.0 810.8L759.2 813.8L759.4 816.8L759.7 819.8L759.9 822.8L760.2 825.8L760.5 828.7L760.7 831.7L761.0 834.7L761.2 837.7L761.4 840.7L761.6 843.7L761.8 846.7L761.9 849.7L762.1 852.7L762.3 855.7L762.5 858.7L762.6 861.7L762.8 864.7L763.0 867.7L763.1 870.6L763.3 873.6L763.4 876.6L763.6 879.6L763.8 882.6L763.9 885.6L764.1 888.6L764.2 891.6L764.4 894.6L764.5 897.6L764.6 900.6L764.8 903.6L764.9 906.6L765.1 909.6L765.2 912.6L765.3 915.6L765.5 918.6L765.6 921.6L765.7 924.6L765.9 927.6L766.0 930.6L766.1 933.6L766.2 936.6L766.4 939.6L766.5 942.6L766.6 945.6L766.7 948.5L766.9 951.5L767.0 954.5L767.1 957.5L767.2 960.5L767.3 963.5L767.4 966.5L767.6 969.5L767.7 972.5L767.8 975.5L767.9 978.5L768.0 981.5L768.1 984.5L768.2 987.5L768.3 990.5L768.5 993.5L768.6 996.5L768.7 999.5L768.8 1002.5L768.9 1005.5L769.0 1008.5L769.1 1011.5L769.2 1014.5L769.3 1017.5L769.4 1020.5L769.5 1023.5L769.6 1026.5L769.7 1029.5L769.8 1032.5L770.0 1035.5L770.1 1038.5L770.2 1041.5L770.3 1044.5L770.4 1047.5L770.5 1050.5L770.6 1053.5L770.7 1056.5L770.8 1059.5L770.9 1062.5L771.0 1065.5L771.1 1068.5L771.2 1071.5L771.4 1074.5L771.5 1077.5L771.6 1080.5L771.7 1083.5L771.8 1086.5L771.9 1089.5L772.0 1092.5L772.1 1095.5L772.2 1098.5L772.4 1101.5L772.5 1104.5L772.6 1107.5L772.7 1110.5L772.8 1113.5L773.0 1116.5L773.1 1119.5L773.2 1122.5L773.3 1125.5L773.4 1128.5L773.6 1131.5L773.7 1134.5L773.8 1137.5L773.9 1140.5L774.0 1143.4L774.1 1146.4L774.2 1149.4L774.4 1152.4L774.5 1155.4L774.6 1158.4L774.7 1161.4L774.9 1164.4L775.0 1167.4L775.1 1170.4L775.3 1173.4L775.4 1176.4L775.5 1179.4L775.7 1182.4L775.8 1185.4L776.0 1188.4L776.1 1191.4L776.3 1194.4L776.4 1197.4L776.6 1200.4L776.8 1203.4L777.0 1206.4L777.1 1209.4L777.3 1212.4L777.5 1215.4L777.7 1218.4L777.9 1221.4L778.1 1224.4L778.3 1227.4L778.6 1230.4L778.9 1233.3L779.3 1236.3L780.0 1239.9L780.9 1243.6L782.0 1246.0L783.1 1246.1L784.5 1244.0L786.0 1240.7L787.1 1237.1L787.7 1234.1L788.2 1231.2L788.5 1228.3L788.9 1225.3L789.1 1222.3L789.4 1219.2L789.6 1216.2L789.8 1213.2L790.0 1210.2L790.2 1207.2L790.4 1204.2L790.6 1201.2L790.7 1198.2L790.9 1195.2L791.0 1192.2L791.2 1189.2L791.3 1186.2L791.5 1183.2L791.6 1180.2L791.7 1177.2L791.9 1174.2L792.0 1171.2L792.2 1168.2L792.3 1165.2L792.5 1162.2L792.6 1159.3L792.7 1156.3L792.9 1153.3L793.0 1150.3L793.2 1147.3L793.3 1144.3L793.5 1141.3L793.6 1138.3L793.7 1135.3L793.9 1132.3L794.0 1129.3L794.1 1126.3L794.3 1123.3L794.4 1120.3L794.5 1117.3L794.7 1114.3L794.8 1111.3L794.9 1108.3L795.0 1105.3L795.2 1102.3L795.3 1099.3L795.4 1096.3L795.5 1093.3L795.7 1090.3L795.8 1087.3L795.9 1084.3L796.0 1081.3L796.1 1078.3L796.3 1075.3L796.4 1072.3L796.5 1069.3L796.6 1066.3L796.7 1063.3L796.9 1060.3L797.0 1057.3L797.1 1054.3L797.2 1051.4L797.3 1048.4L797.4 1045.4L797.6 1042.4L797.7 1039.4L797.8 1036.4L797.9 1033.4L798.0 1030.4L798.1 1027.4L798.2 1024.4L798.4 1021.4L798.5 1018.4L798.6 1015.4L798.7 1012.4L798.8 1009.4L798.9 1006.4L799.0 1003.4L799.1 1000.4L799.2 997.4L799.4 994.4L799.5 991.4L799.6 988.4L799.7 985.4L799.8 982.4L799.9 979.4L800.0 976.4L800.1 973.4L800.2 970.4L800.4 967.4L800.5 964.4L800.6 961.4L800.7 958.4L800.8 955.4L800.9 952.4L801.0 949.4L801.1 946.4L801.2 943.4L801.3 940.4L801.4 937.4L801.6 934.4L801.7 931.4L801.8 928.4L801.9 925.4L802.0 922.4L802.1 919.4L802.2 916.4L802.3 913.4L802.4 910.4L802.6 907.5L802.7 904.5L802.8 901.5L802.9 898.5L803.0 895.5L803.1 892.5L803.2 889.5L803.3 886.5L803.5 883.5L803.6 880.5L803.7 877.5L803.8 874.5L803.9 871.5L804.0 868.5L804.1 865.5L804.3 862.5L804.4 859.5L804.5 856.5L804.6 853.5L804.7 850.5L804.9 847.5L805.0 844.5L805.1 841.5L805.2 838.5L805.3 835.5L805.4 832.5L805.6 829.5L805.7 826.5L805.8 823.5L805.9 820.5L806.1 817.5L806.2 814.5L806.3 811.5L806.4 808.5L806.6 805.5L806.7 802.5L806.9 799.5L807.0 796.5L807.2 793.5L807.4 790.5L807.5 787.6L807.7 784.6L807.8 781.6L808.0 778.6L808.1 775.6L808.2 772.6L808.3 769.6L808.4 766.6L808.5 763.6L808.6 760.6L808.7 757.6L808.8 754.6L808.9 751.6L809.0 748.6L809.1 745.6L809.2 742.6L809.4 739.6L809.5 736.6L809.6 733.6L809.7 730.6L809.8 727.6L809.9 724.6L810.0 721.6L810.1 718.6L810.3 715.6L810.4 712.6L810.6 709.6L810.7 706.6L810.9 703.6L811.1 700.6L811.3 697.6L811.5 694.6L811.7 691.7L811.9 688.7L812.1 685.7L812.3 682.7L812.5 679.7L812.7 676.7L812.8 673.7L813.0 670.7L813.2 667.7L813.4 664.7L813.7 661.7L813.9 658.7L814.4 655.8L814.9 652.8L815.5 649.9L816.2 646.9L816.8 644.0L817.5 641.1L818.2 638.1L818.7 635.2L819.1 632.2L819.5 629.3L819.8 626.3L820.1 623.3L820.3 620.3L820.6 617.3L820.8 614.3L821.0 611.3L821.2 608.3L821.4 605.3L821.6 602.3L821.8 599.2L821.9 595.8L822.3 593.6L825.4 592.6L827.8 590.9L829.5 588.3L830.2 585.3L830.7 582.2L832.0 579.8L834.7 579.3L837.1 581.6L838.2 584.3L838.8 587.2L839.3 590.3L839.5 593.3L839.7 596.3L839.9 599.3L840.0 602.3L840.1 605.3L840.3 608.3L840.5 611.3L840.7 614.3L841.1 617.3L841.4 620.3L841.7 623.2L842.0 626.2L842.3 629.2L842.5 632.2L842.7 635.2L842.9 638.2L843.2 641.2L843.5 644.2L843.8 647.1L844.3 650.1L844.7 653.1L845.0 656.1L845.3 659.1L845.5 662.0L845.6 665.0L845.7 668.0L845.9 671.0L846.0 674.0L846.2 677.0L846.5 680.0L846.8 683.0L847.1 686.0L847.4 689.0L847.8 692.0L848.1 694.9L848.4 697.9L848.7 700.9L849.0 703.9L849.3 706.9L849.5 709.9L849.7 712.9L849.9 715.9L850.1 718.8L850.3 721.8L850.6 724.8L850.8 727.8L851.1 730.8L851.3 733.8L851.6 736.8L851.8 739.8L852.0 742.8L852.1 745.8L852.2 748.8L852.3 751.8L852.4 754.8L852.5 757.8L852.6 760.8L852.6 763.8L852.7 766.8L852.8 769.8L852.9 772.8L853.0 775.8L853.1 778.8L853.2 781.8L853.3 784.8L853.4 787.8L853.5 790.8L853.7 793.7L853.9 796.7L854.1 799.7L854.3 802.7L854.5 805.7L854.8 808.7L855.0 811.7L855.1 814.7L855.3 817.7L855.4 820.7L855.5 823.7L855.6 826.7L855.7 829.7L855.8 832.7L855.9 835.7L856.0 838.7L856.1 841.7L856.2 844.7L856.3 847.7L856.4 850.7L856.5 853.7L856.6 856.7L856.7 859.7L856.8 862.7L856.9 865.7L857.0 868.7L857.1 871.7L857.2 874.7L857.3 877.7L857.4 880.7L857.5 883.7L857.6 886.7L857.7 889.7L857.8 892.7L857.9 895.6L858.0 898.6L858.1 901.6L858.2 904.6L858.3 907.6L858.4 910.6L858.5 913.6L858.6 916.6L858.7 919.6L858.8 922.6L858.9 925.6L859.0 928.6L859.1 931.6L859.2 934.6L859.3 937.6L859.4 940.6L859.5 943.6L859.6 946.6L859.7 949.6L859.8 952.6L859.9 955.6L860.0 958.6L860.1 961.6L860.2 964.6L860.3 967.6L860.4 970.6L860.5 973.6L860.6 976.6L860.7 979.6L860.9 982.6L861.0 985.6L861.1 988.6L861.2 991.6L861.3 994.6L861.4 997.6L861.5 1000.6L861.6 1003.6L861.7 1006.6L861.8 1009.6L861.9 1012.6L862.0 1015.6L862.1 1018.6L862.2 1021.6L862.3 1024.6L862.4 1027.6L862.5 1030.6L862.6 1033.6L862.7 1036.6L862.8 1039.6L862.9 1042.6L863.0 1045.6L863.1 1048.6L863.2 1051.6L863.3 1054.6L863.4 1057.6L863.5 1060.6L863.6 1063.6L863.7 1066.6L863.8 1069.5L863.9 1072.5L864.0 1075.5L864.1 1078.5L864.2 1081.5L864.4 1084.5L864.5 1087.5L864.6 1090.5L864.7 1093.5L864.8 1096.5L864.9 1099.5L865.0 1102.5L865.1 1105.5L865.2 1108.5L865.3 1111.5L865.4 1114.5L865.5 1117.5L865.6 1120.5L865.7 1123.5L865.9 1126.5L866.0 1129.5L866.1 1132.5L866.2 1135.5L866.3 1138.5L866.4 1141.5L866.5 1144.5L866.6 1147.5L866.7 1150.5L866.8 1153.5L867.0 1156.5L867.1 1159.5L867.2 1162.5L867.3 1165.5L867.4 1168.5L867.5 1171.5L867.6 1174.5L867.8 1177.5L867.9 1180.5L868.0 1183.5L868.1 1186.5L868.2 1189.5L868.3 1192.5L868.4 1195.5L868.6 1198.5L868.7 1201.5L868.8 1204.5L868.9 1207.5L869.0 1210.5L869.1 1213.5L869.2 1216.5L869.4 1219.4L869.5 1222.4L869.6 1225.4L869.7 1228.4L869.9 1231.4L870.0 1234.4L870.2 1237.4L870.3 1240.4L870.5 1243.4L870.6 1246.4L870.8 1249.4L871.0 1252.4L871.2 1255.4L871.3 1258.4L871.5 1261.4L871.7 1264.4L871.9 1267.4L872.1 1270.4L872.3 1273.4L872.5 1276.4L872.7 1279.4L872.9 1282.3L873.1 1285.3L873.3 1288.3L873.5 1291.3L873.7 1294.3L873.9 1297.3L874.1 1300.3L874.4 1303.3L874.6 1306.3L875.0 1309.3L875.3 1312.5L875.8 1316.2L876.4 1320.1L877.1 1323.7L877.7 1326.6L878.4 1328.2L878.9 1328.3L879.5 1326.7L880.1 1323.9L880.7 1320.3L881.2 1316.4L881.7 1312.6L882.0 1309.4L882.3 1306.4L882.5 1303.4L882.8 1300.4L883.0 1297.4L883.1 1294.4L883.3 1291.4L883.5 1288.4L883.6 1285.4L883.8 1282.4L884.0 1279.4L884.2 1276.4L884.3 1273.4L884.5 1270.4L884.7 1267.5L884.9 1264.5L885.1 1261.5L885.3 1258.5L885.5 1255.5L885.7 1252.5L885.8 1249.5L886.0 1246.5L886.2 1243.5L886.3 1240.5L886.5 1237.5L886.7 1234.5L886.8 1231.5L886.9 1228.5L887.1 1225.5L887.2 1222.5L887.4 1219.5L887.5 1216.5L887.6 1213.5L887.7 1210.5L887.9 1207.5L888.0 1204.5L888.1 1201.5L888.2 1198.5L888.4 1195.5L888.5 1192.6L888.6 1189.6L888.7 1186.6L888.8 1183.6L889.0 1180.6L889.1 1177.6L889.2 1174.6L889.3 1171.6L889.4 1168.6L889.5 1165.6L889.6 1162.6L889.8 1159.6L889.9 1156.6L890.0 1153.6L890.1 1150.6L890.2 1147.6L890.3 1144.6L890.4 1141.6L890.5 1138.6L890.6 1135.6L890.7 1132.6L890.9 1129.6L891.0 1126.6L891.1 1123.6L891.2 1120.6L891.3 1117.6L891.4 1114.6L891.6 1111.6L891.7 1108.6L891.8 1105.6L891.9 1102.6L892.1 1099.6L892.2 1096.6L892.3 1093.6L892.4 1090.6L892.6 1087.6L892.7 1084.6L892.8 1081.6L893.0 1078.6L893.1 1075.6L893.2 1072.6L893.3 1069.6L893.5 1066.6L893.6 1063.7L893.8 1060.7L893.9 1057.7L894.0 1054.7L894.2 1051.7L894.3 1048.7L894.4 1045.7L894.6 1042.7L894.7 1039.7L894.9 1036.7L895.0 1033.7L895.1 1030.7L895.3 1027.7L895.4 1024.7L895.5 1021.7L895.7 1018.7L895.8 1015.7L896.0 1012.7L896.1 1009.7L896.2 1006.7L896.4 1003.7L896.5 1000.7L896.7 997.7L896.8 994.7L897.0 991.7L897.1 988.7L897.2 985.7L897.4 982.7L897.5 979.7L897.6 976.7L897.8 973.7L897.9 970.7L898.1 967.8L898.2 964.8L898.3 961.8L898.5 958.8L898.6 955.8L898.7 952.8L898.9 949.8L899.0 946.8L899.1 943.8L899.3 940.8L899.4 937.8L899.5 934.8L899.7 931.8L899.8 928.8L899.9 925.8L900.1 922.8L900.2 919.8L900.3 916.8L900.4 913.8L900.6 910.8L900.7 907.8L900.8 904.8L900.9 901.8L901.0 898.8L901.2 895.8L901.3 892.8L901.4 889.8L901.5 886.8L901.6 883.8L901.7 880.8L901.9 877.8L902.0 874.8L902.1 871.8L902.2 868.8L902.3 865.8L902.4 862.8L902.5 859.8L902.6 856.8L902.7 853.8L902.8 850.8L902.9 847.9L903.0 844.9L903.1 841.9L903.2 838.9L903.2 835.9L903.3 832.9L903.4 829.9L903.5 826.9L903.5 823.9L903.6 820.9L903.7 817.9L903.8 814.9L903.8 811.9L903.9 808.9L904.0 805.9L904.1 802.9L904.2 799.9L904.2 796.9L904.3 793.9L904.4 790.9L904.5 787.9L904.7 784.9L904.8 781.9L905.1 778.9L905.5 775.9L905.9 772.9L906.3 770.0L906.7 767.0L907.0 764.0L907.3 761.0L907.6 758.0L907.9 755.1L908.2 752.1L908.5 749.1L908.7 746.1L908.9 743.1L909.2 740.1L909.4 737.1L909.7 734.1L910.0 731.2L910.4 728.2L910.9 725.2L911.3 722.2L911.8 719.3L912.2 716.3L912.7 713.3L913.5 710.1L915.2 708.8L918.6 709.5L919.4 707.8L919.9 704.1L920.9 700.7L922.0 699.9L922.7 702.8L923.6 706.5L924.9 709.1L926.8 711.6L928.8 713.9L929.7 716.5L930.0 719.4L930.2 722.5L930.4 725.6L930.6 728.6L930.7 731.6L930.9 734.6L931.0 737.6L931.2 740.6L931.3 743.6L931.4 746.6L931.5 749.6L931.6 752.6L931.7 755.6L931.8 758.6L931.9 761.6L932.0 764.6L932.1 767.6L932.2 770.6L932.3 773.6L932.5 776.6L932.6 779.6L932.8 782.5L932.9 785.5L933.0 788.5L933.2 791.5L933.4 794.5L933.5 797.5L933.7 800.5L933.8 803.5L934.0 806.5L934.2 809.5L934.3 812.5L934.5 815.5L934.6 818.5L934.8 821.5L934.9 824.5L935.1 827.5L935.2 830.5L935.4 833.5L935.5 836.5L935.6 839.5L935.8 842.5L935.9 845.5L936.0 848.5L936.2 851.5L936.3 854.5L936.4 857.5L936.6 860.5L936.7 863.5L936.8 866.4L936.9 869.4L937.1 872.4L937.2 875.4L937.3 878.4L937.4 881.4L937.6 884.4L937.7 887.4L937.8 890.4L937.9 893.4L938.0 896.4L938.2 899.4L938.3 902.4L938.4 905.4L938.5 908.4L938.6 911.4L938.8 914.4L938.9 917.4L939.0 920.4L939.1 923.4L939.2 926.4L939.3 929.4L939.4 932.4L939.6 935.4L939.7 938.4L939.8 941.4L939.9 944.4L940.0 947.4L940.1 950.4L940.2 953.4L940.4 956.4L940.5 959.4L940.6 962.4L940.7 965.4L940.8 968.4L940.9 971.4L941.0 974.4L941.1 977.4L941.2 980.4L941.4 983.4L941.5 986.4L941.6 989.4L941.7 992.4L941.8 995.4L941.9 998.3L942.0 1001.3L942.1 1004.3L942.2 1007.3L942.4 1010.3L942.5 1013.3L942.6 1016.3L942.7 1019.3L942.8 1022.3L942.9 1025.3L943.0 1028.3L943.1 1031.3L943.2 1034.3L943.4 1037.3L943.5 1040.3L943.6 1043.3L943.7 1046.3L943.8 1049.3L943.9 1052.3L944.0 1055.3L944.1 1058.3L944.3 1061.3L944.4 1064.3L944.5 1067.3L944.6 1070.3L944.7 1073.3L944.8 1076.3L944.9 1079.3L945.1 1082.3L945.2 1085.3L945.3 1088.3L945.4 1091.3L945.5 1094.3L945.7 1097.3L945.8 1100.3L945.9 1103.3L946.0 1106.3L946.1 1109.3L946.3 1112.3L946.4 1115.3L946.5 1118.3L946.6 1121.3L946.7 1124.3L946.9 1127.3L947.0 1130.3L947.1 1133.2L947.3 1136.2L947.4 1139.2L947.5 1142.2L947.6 1145.2L947.8 1148.2L947.9 1151.2L948.0 1154.2L948.2 1157.2L948.3 1160.2L948.4 1163.2L948.6 1166.2L948.7 1169.2L948.8 1172.2L948.9 1175.2L949.1 1178.2L949.2 1181.2L949.3 1184.2L949.4 1187.2L949.5 1190.2L949.7 1193.2L949.8 1196.2L949.9 1199.2L950.0 1202.2L950.1 1205.2L950.2 1208.2L950.3 1211.2L950.4 1214.2L950.5 1217.2L950.6 1220.2L950.7 1223.2L950.8 1226.2L950.9 1229.2L951.0 1232.2L951.1 1235.2L951.3 1238.2L951.4 1241.2L951.5 1244.2L951.6 1247.2L951.8 1250.2L951.9 1253.2L952.0 1256.2L952.2 1259.1L952.3 1262.1L952.5 1265.1L952.7 1268.1L952.8 1271.1L953.0 1274.1L953.2 1277.1L953.3 1280.1L953.5 1283.1L953.7 1286.1L953.9 1289.1L954.0 1292.1L954.2 1295.1L954.4 1298.1L954.6 1301.1L954.8 1304.1L955.0 1307.1L955.2 1310.1L955.3 1313.1L955.5 1316.1L955.7 1319.0L955.9 1322.0L956.0 1325.0L956.2 1328.0L956.4 1331.0L956.6 1334.0L956.8 1337.0L957.0 1340.0L957.2 1343.0L957.5 1346.0L957.7 1349.0L958.0 1352.0L958.4 1355.4L958.8 1359.3L959.2 1363.2L959.7 1366.9L960.2 1370.1L960.6 1372.4L961.1 1373.5L961.6 1373.2L962.1 1371.6L962.7 1368.9L963.3 1365.5L963.8 1361.6L964.3 1357.7L964.8 1354.0L965.1 1350.8L965.4 1347.8L965.8 1344.8L966.0 1341.9L966.3 1338.9L966.6 1335.9L966.8 1332.9L967.0 1329.9L967.3 1326.9L967.5 1323.9L967.7 1320.9L967.9 1317.9L968.1 1314.9L968.3 1311.9L968.4 1308.9L968.6 1305.9L968.8 1302.9L969.0 1299.9L969.1 1296.9L969.3 1293.9L969.4 1290.9L969.6 1288.0L969.7 1285.0L969.9 1282.0L970.0 1279.0L970.1 1276.0L970.3 1273.0L970.4 1270.0L970.5 1267.0L970.7 1264.0L970.8 1261.0L970.9 1258.0L971.1 1255.0L971.2 1252.0L971.3 1249.0L971.4 1246.0L971.6 1243.0L971.7 1240.0L971.8 1237.0L971.9 1234.0L972.1 1231.0L972.2 1228.0L972.3 1225.0L972.4 1222.0L972.5 1219.0L972.6 1216.0L972.8 1213.0L972.9 1210.0L973.0 1207.0L973.1 1204.0L973.2 1201.0L973.3 1198.0L973.5 1195.0L973.6 1192.0L973.7 1189.0L973.8 1186.0L974.0 1183.0L974.1 1180.0L974.2 1177.0L974.3 1174.0L974.5 1171.1L974.6 1168.1L974.7 1165.1L974.8 1162.1L975.0 1159.1L975.1 1156.1L975.2 1153.1L975.4 1150.1L975.5 1147.1L975.6 1144.1L975.7 1141.1L975.9 1138.1L976.0 1135.1L976.1 1132.1L976.3 1129.1L976.4 1126.1L976.5 1123.1L976.6 1120.1L976.8 1117.1L976.9 1114.1L977.0 1111.1L977.1 1108.1L977.3 1105.1L977.4 1102.1L977.5 1099.1L977.6 1096.1L977.8 1093.1L977.9 1090.1L978.0 1087.1L978.2 1084.1L978.3 1081.1L978.4 1078.1L978.5 1075.1L978.7 1072.1L978.8 1069.1L978.9 1066.1L979.1 1063.1L979.2 1060.2L979.3 1057.2L979.5 1054.2L979.6 1051.2L979.7 1048.2L979.8 1045.2L980.0 1042.2L980.1 1039.2L980.2 1036.2L980.4 1033.2L980.5 1030.2L980.6 1027.2L980.8 1024.2L980.9 1021.2L981.0 1018.2L981.2 1015.2L981.3 1012.2L981.4 1009.2L981.5 1006.2L981.7 1003.2L981.8 1000.2L981.9 997.2L982.1 994.2L982.2 991.2L982.3 988.2L982.4 985.2L982.6 982.2L982.7 979.2L982.8 976.2L983.0 973.2L983.1 970.2L983.2 967.2L983.3 964.2L983.5 961.2L983.6 958.2L983.7 955.2L983.8 952.2L984.0 949.2L984.1 946.3L984.2 943.3L984.3 940.3L984.4 937.3L984.6 934.3L984.7 931.3L984.8 928.3L984.9 925.3L985.0 922.3L985.1 919.3L985.3 916.3L985.4 913.3L985.5 910.3L985.6 907.3L985.7 904.3L985.8 901.3L985.9 898.3L986.0 895.3L986.1 892.3L986.3 889.3L986.4 886.3L986.5 883.3L986.6 880.3L986.7 877.3L986.8 874.3L986.9 871.3L987.0 868.3L987.1 865.3L987.2 862.3L987.3 859.3L987.4 856.3L987.5 853.3L987.6 850.3L987.6 847.3L987.7 844.3L987.8 841.3L987.9 838.3L988.0 835.3L988.1 832.3L988.2 829.3L988.2 826.3L988.3 823.3L988.4 820.3L988.4 817.3L988.5 814.3L988.6 811.3L988.7 808.3L988.8 805.3L988.9 802.3L988.9 799.3L989.0 796.3L989.1 793.3L989.2 790.3L989.3 787.3L989.4 784.3L989.5 781.3L989.7 778.3L989.8 775.4L990.0 772.4L990.3 769.4L990.6 766.4L991.0 763.4L991.3 760.4L991.6 757.4L991.8 754.4L992.0 751.5L992.2 748.5L992.4 745.5L992.5 742.5L992.7 739.5L992.9 736.5L993.2 733.5L993.4 730.5L993.7 727.5L994.0 724.5L994.3 721.5L994.6 718.6L994.9 715.6L995.2 712.6L995.5 709.6L995.8 706.6L996.1 703.6L996.4 700.7L996.7 697.6L997.1 694.6L998.5 692.3L1000.9 690.2L1002.9 687.2L1004.5 686.7L1005.8 689.7L1006.5 693.0L1006.9 695.9L1007.2 698.9L1007.4 701.9L1007.7 704.9L1007.9 707.9L1008.3 710.9L1008.8 713.9L1009.3 716.8L1009.8 719.8L1010.2 722.8L1010.6 725.8L1010.8 728.7L1011.1 731.7L1011.4 734.7L1011.6 737.7L1011.8 740.7L1011.9 743.7L1012.1 746.7L1012.2 749.7L1012.4 752.7L1012.5 755.7L1012.6 758.7L1012.7 761.7L1012.9 764.7L1013.0 767.7L1013.2 770.7L1013.4 773.7L1013.6 776.7L1013.8 779.6L1014.0 782.6L1014.2 785.6L1014.5 788.6L1014.7 791.6L1014.9 794.6L1015.1 797.6L1015.3 800.6L1015.5 803.6L1015.7 806.6L1015.9 809.6L1016.1 812.6L1016.3 815.6L1016.4 818.6L1016.6 821.6L1016.7 824.6L1016.9 827.6L1017.0 830.5L1017.2 833.5L1017.3 836.5L1017.4 839.5L1017.5 842.5L1017.7 845.5L1017.8 848.5L1017.9 851.5L1018.0 854.5L1018.1 857.5L1018.2 860.5L1018.3 863.5L1018.5 866.5L1018.6 869.5L1018.7 872.5L1018.8 875.5L1018.9 878.5L1019.0 881.5L1019.1 884.5L1019.2 887.5L1019.3 890.5L1019.4 893.5L1019.5 896.5L1019.6 899.5L1019.7 902.5L1019.8 905.5L1019.9 908.5L1020.0 911.5L1020.1 914.5L1020.2 917.5L1020.3 920.5L1020.4 923.5L1020.5 926.5L1020.5 929.5L1020.6 932.5L1020.7 935.5L1020.8 938.5L1020.9 941.5L1021.0 944.5L1021.1 947.5L1021.2 950.5L1021.3 953.5L1021.3 956.5L1021.4 959.5L1021.5 962.5L1021.6 965.5L1021.7 968.5L1021.8 971.5L1021.9 974.5L1021.9 977.5L1022.0 980.5L1022.1 983.5L1022.2 986.5L1022.3 989.5L1022.4 992.5L1022.4 995.5L1022.5 998.5L1022.6 1001.5L1022.7 1004.5L1022.8 1007.4L1022.9 1010.4L1023.0 1013.4L1023.0 1016.4L1023.1 1019.4L1023.2 1022.4L1023.3 1025.4L1023.4 1028.4L1023.5 1031.4L1023.5 1034.4L1023.6 1037.4L1023.7 1040.4L1023.8 1043.4L1023.9 1046.4L1024.0 1049.4L1024.1 1052.4L1024.1 1055.4L1024.2 1058.4L1024.3 1061.4L1024.4 1064.4L1024.5 1067.4L1024.6 1070.4L1024.7 1073.4L1024.8 1076.4L1024.9 1079.4L1025.0 1082.4L1025.1 1085.4L1025.2 1088.4L1025.2 1091.4L1025.3 1094.4L1025.4 1097.4L1025.5 1100.4L1025.6 1103.4L1025.7 1106.4L1025.8 1109.4L1025.9 1112.4L1026.0 1115.4L1026.1 1118.4L1026.2 1121.4L1026.4 1124.4L1026.5 1127.4L1026.6 1130.4L1026.7 1133.4L1026.8 1136.4L1026.9 1139.4L1027.0 1142.4L1027.1 1145.4L1027.2 1148.4L1027.3 1151.4L1027.5 1154.4L1027.6 1157.4L1027.7 1160.4L1027.8 1163.4L1027.9 1166.4L1028.0 1169.4L1028.2 1172.4L1028.3 1175.4L1028.4 1178.4L1028.5 1181.4L1028.6 1184.4L1028.7 1187.4L1028.8 1190.4L1028.9 1193.3L1029.1 1196.3L1029.2 1199.3L1029.3 1202.3L1029.4 1205.3L1029.5 1208.3L1029.6 1211.3L1029.7 1214.3L1029.8 1217.3L1029.9 1220.3L1030.0 1223.3L1030.1 1226.3L1030.2 1229.3L1030.4 1232.3L1030.5 1235.3L1030.6 1238.3L1030.7 1241.3L1030.8 1244.3L1030.9 1247.3L1031.1 1250.3L1031.2 1253.3L1031.3 1256.3L1031.5 1259.3L1031.6 1262.3L1031.7 1265.3L1031.8 1268.3L1031.9 1271.3L1032.1 1274.3L1032.2 1277.3L1032.3 1280.3L1032.5 1283.3L1032.6 1286.3L1032.8 1289.3L1033.0 1292.3L1033.2 1295.3L1033.4 1298.3L1033.6 1301.2L1033.9 1304.5L1034.2 1308.2L1034.6 1312.2L1035.0 1316.0L1035.5 1319.4L1035.9 1322.1L1036.3 1323.7L1036.7 1323.9L1037.1 1322.7L1037.6 1320.4L1038.0 1317.2L1038.4 1313.4L1038.8 1309.5L1039.1 1305.6L1039.4 1302.2L1039.6 1299.2L1039.8 1296.2L1040.0 1293.2L1040.2 1290.2L1040.3 1287.2L1040.5 1284.2L1040.7 1281.2L1040.8 1278.2L1040.9 1275.2L1041.1 1272.2L1041.2 1269.2L1041.3 1266.2L1041.4 1263.2L1041.6 1260.2L1041.7 1257.2L1041.8 1254.2L1041.9 1251.3L1042.1 1248.3L1042.2 1245.3L1042.3 1242.3L1042.4 1239.3L1042.5 1236.3L1042.7 1233.3L1042.8 1230.3L1042.9 1227.3L1043.0 1224.3L1043.1 1221.3L1043.2 1218.3L1043.3 1215.3L1043.4 1212.3L1043.5 1209.3L1043.6 1206.3L1043.7 1203.3L1043.9 1200.3L1044.0 1197.3L1044.1 1194.3L1044.2 1191.3L1044.3 1188.3L1044.4 1185.3L1044.5 1182.3L1044.6 1179.3L1044.7 1176.3L1044.9 1173.3L1045.0 1170.3L1045.1 1167.3L1045.2 1164.3L1045.3 1161.3L1045.5 1158.3L1045.6 1155.3L1045.7 1152.3L1045.8 1149.3L1045.9 1146.3L1046.0 1143.3L1046.2 1140.3L1046.3 1137.3L1046.4 1134.3L1046.5 1131.3L1046.6 1128.3L1046.7 1125.3L1046.8 1122.3L1046.9 1119.3L1047.0 1116.3L1047.0 1113.3L1047.1 1110.3L1047.2 1107.3L1047.3 1104.4L1047.4 1101.4L1047.5 1098.4L1047.5 1095.4L1047.6 1092.4L1047.7 1089.4L1047.8 1086.4L1047.8 1083.4L1047.9 1080.4L1048.0 1077.4L1048.1 1074.4L1048.1 1071.4L1048.2 1068.4L1048.3 1065.4L1048.4 1062.4L1048.4 1059.4L1048.5 1056.4L1048.6 1053.4L1048.7 1050.4L1048.7 1047.4L1048.8 1044.4L1048.9 1041.4L1049.0 1038.4L1049.0 1035.4L1049.1 1032.4L1049.2 1029.4L1049.3 1026.4L1049.3 1023.4L1049.4 1020.4L1049.5 1017.4L1049.5 1014.4L1049.6 1011.4L1049.7 1008.4L1049.7 1005.4L1049.8 1002.4L1049.8 999.4L1049.9 996.4L1049.9 993.4L1050.0 990.4L1050.1 987.4L1050.1 984.4L1050.2 981.4L1050.2 978.4L1050.3 975.4L1050.3 972.4L1050.4 969.4L1050.5 966.4L1050.5 963.4L1050.6 960.4L1050.6 957.4L1050.7 954.4L1050.8 951.4L1050.8 948.4L1050.9 945.4L1051.0 942.4L1051.0 939.4L1051.1 936.4L1051.2 933.4L1051.2 930.4L1051.3 927.4L1051.4 924.4L1051.5 921.4L1051.5 918.4L1051.6 915.4L1051.7 912.4L1051.8 909.4L1051.9 906.4L1052.0 903.4L1052.0 900.4L1052.1 897.4L1052.2 894.4L1052.3 891.4L1052.4 888.4L1052.5 885.4L1052.6 882.4L1052.6 879.4L1052.7 876.4L1052.8 873.4L1052.9 870.4L1053.0 867.4L1053.1 864.4L1053.2 861.4L1053.3 858.4L1053.4 855.4L1053.5 852.4L1053.6 849.4L1053.7 846.4L1053.7 843.4L1053.8 840.4L1053.9 837.4L1054.0 834.4L1054.1 831.4L1054.2 828.4L1054.3 825.4L1054.3 822.4L1054.4 819.4L1054.5 816.4L1054.6 813.4L1054.7 810.4L1054.7 807.4L1054.8 804.4L1054.9 801.4L1054.9 798.4L1055.0 795.4L1055.1 792.4L1055.1 789.4L1055.2 786.5L1055.3 783.5L1055.3 780.5L1055.4 777.5L1055.5 774.5L1055.5 771.5L1055.6 768.5L1055.7 765.5L1055.8 762.5L1055.9 759.5L1056.0 756.5L1056.1 753.5L1056.2 750.5L1056.3 747.5L1056.4 744.5L1056.5 741.5L1056.6 738.5L1056.7 735.5L1056.8 732.5L1056.9 729.5L1057.0 726.5L1057.1 723.5L1057.2 720.5L1057.3 717.5L1057.4 714.5L1057.5 711.5L1057.6 708.5L1057.6 705.5L1057.7 702.5L1057.8 699.5L1057.9 696.5L1058.0 693.5L1058.0 690.5L1058.1 687.5L1058.2 684.5L1058.3 681.5L1058.3 678.5L1058.4 675.5L1058.5 672.5L1058.6 669.5L1058.6 666.5L1058.7 663.5L1058.8 660.5L1058.8 657.5L1058.9 654.5L1059.0 651.5L1059.0 648.5L1059.1 645.5L1059.2 642.5L1059.2 639.5L1059.3 636.5L1059.3 633.5L1059.4 630.5L1059.4 627.5L1059.5 624.5L1059.6 621.5L1059.6 618.5L1059.7 615.5L1059.8 612.5L1059.8 609.5L1059.9 606.5L1060.0 603.5L1060.1 600.5L1060.1 597.5L1060.2 594.5L1060.3 591.5L1060.4 588.5L1060.5 585.5L1060.6 582.5L1060.7 579.5L1060.8 576.5L1060.9 573.5L1061.1 570.5L1061.2 567.5L1061.3 564.5L1061.5 561.5L1061.7 558.5L1061.9 555.6L1062.1 552.6L1062.3 549.6L1062.5 546.6L1062.7 543.6L1062.9 540.6L1063.0 537.6L1063.2 534.6L1063.3 531.6L1063.4 528.6L1063.5 525.6L1063.6 522.6L1063.7 519.6L1063.8 516.6L1063.9 513.6L1064.0 510.6L1064.1 507.6L1064.1 504.6L1064.2 501.6L1064.3 498.6L1064.4 495.6L1064.5 492.6L1064.6 489.6L1064.7 486.6L1064.9 483.6L1065.0 480.6L1065.1 477.6L1065.3 474.6L1065.4 471.6L1065.5 468.6L1065.7 465.6L1065.8 462.6L1066.0 459.6L1066.1 456.7L1066.3 453.7L1066.4 450.7L1066.6 447.7L1066.8 444.7L1066.9 441.7L1067.1 438.7L1067.3 435.7L1067.5 432.7L1067.6 429.7L1067.8 426.7L1068.0 423.7L1068.2 420.7L1068.3 417.7L1068.5 414.7L1068.8 411.7L1069.0 408.7L1069.2 405.7L1069.4 402.8L1069.7 399.8L1070.0 396.8L1070.4 393.8L1070.8 390.8L1071.2 387.8L1071.6 384.9L1072.0 381.9L1072.3 378.9L1072.6 375.9L1072.9 372.9L1073.0 370.0L1073.2 367.0L1073.2 364.0L1073.3 361.0L1073.4 358.0L1073.4 355.0L1073.5 352.0L1073.5 349.0L1073.6 346.0L1073.7 343.0L1073.8 340.0L1073.9 337.0L1074.1 334.0L1074.3 331.0L1074.6 328.0L1074.9 325.0L1075.1 322.0L1075.4 319.0L1075.7 316.0L1075.9 313.0L1076.1 309.9L1076.3 306.9L1076.6 303.9L1077.0 301.0L1077.7 298.2L1079.1 295.6L1080.6 292.9L1081.9 290.2L1083.2 287.5L1084.9 284.7L1086.9 281.8L1088.5 280.9L1090.0 283.1L1091.2 286.6L1091.8 289.7L1092.3 292.6L1092.6 295.6L1092.9 298.6L1093.2 301.6L1093.5 304.6L1093.7 307.6L1094.0 310.6L1094.2 313.6L1094.4 316.6L1094.6 319.6L1094.9 322.6L1095.1 325.6L1095.4 328.5L1095.6 331.5L1095.9 334.5L1096.1 337.5L1096.4 340.5L1096.7 343.5L1096.9 346.5L1097.2 349.5L1097.4 352.5L1097.7 355.5L1097.9 358.4L1098.1 361.4L1098.3 364.4L1098.5 367.4L1098.7 370.4L1098.8 373.4L1098.9 376.4L1099.0 379.4L1099.1 382.4L1099.2 385.4L1099.3 388.4L1099.4 391.4L1099.5 394.4L1099.6 397.4L1099.7 400.4L1099.8 403.4L1099.9 406.4L1100.0 409.4L1100.1 412.4L1100.2 415.4L1100.3 418.4L1100.4 421.4L1100.5 424.4L1100.6 427.4L1100.7 430.4L1100.8 433.4L1100.9 436.4L1101.0 439.4L1101.1 442.4L1101.2 445.4L1101.3 448.4L1101.4 451.4L1101.5 454.4L1101.6 457.4L1101.8 460.4L1101.9 463.4L1102.0 466.4L1102.2 469.4L1102.3 472.4L1102.5 475.4L1102.6 478.3L1102.8 481.3L1102.9 484.3L1103.0 487.3L1103.2 490.3L1103.3 493.3L1103.4 496.3L1103.5 499.3L1103.6 502.3L1103.7 505.3L1103.8 508.3L1103.9 511.3L1103.9 514.3L1104.0 517.3L1104.1 520.3L1104.1 523.3L1104.2 526.3L1104.3 529.3L1104.3 532.3L1104.4 535.3L1104.5 538.3L1104.5 541.3L1104.6 544.3L1104.7 547.3L1104.7 550.3L1104.8 553.3L1104.9 556.3L1105.0 559.3L1105.0 562.3L1105.1 565.3L1105.2 568.3L1105.3 571.3L1105.4 574.3L1105.5 577.3L1105.6 580.3L1105.6 583.3L1105.7 586.3L1105.8 589.3L1105.9 592.3L1105.9 595.3L1106.0 598.3L1106.1 601.3L1106.1 604.3L1106.2 607.3L1106.3 610.3L1106.3 613.3L1106.4 616.3L1106.4 619.3L1106.5 622.3L1106.5 625.3L1106.5 628.3L1106.6 631.3L1106.6 634.3L1106.7 637.3L1106.7 640.3L1106.8 643.3L1106.8 646.3L1106.9 649.3L1107.0 652.3L1107.0 655.3L1107.1 658.3L1107.1 661.3L1107.2 664.3L1107.3 667.3L1107.3 670.3L1107.4 673.3L1107.5 676.3L1107.6 679.3L1107.6 682.3L1107.7 685.3L1107.8 688.3L1107.9 691.3L1107.9 694.3L1108.0 697.3L1108.1 700.3L1108.2 703.3L1108.2 706.3L1108.3 709.3L1108.4 712.3L1108.5 715.3L1108.6 718.3L1108.7 721.3L1108.8 724.3L1108.8 727.3L1108.9 730.3L1109.0 733.3L1109.1 736.3L1109.2 739.3L1109.2 742.3L1109.3 745.3L1109.4 748.3L1109.4 751.3L1109.5 754.3L1109.5 757.3L1109.6 760.3L1109.7 763.3L1109.7 766.3L1109.7 769.3L1109.8 772.3L1109.8 775.3L1109.9 778.3L1109.9 781.3L1110.0 784.3L1110.0 787.3L1110.1 790.3L1110.1 793.3L1110.2 796.3L1110.2 799.2L1110.3 802.2L1110.3 805.2L1110.4 808.2L1110.4 811.2L1110.5 814.2L1110.6 817.2L1110.6 820.2L1110.7 823.2L1110.7 826.2L1110.8 829.2L1110.8 832.2L1110.9 835.2L1110.9 838.2L1111.0 841.2L1111.0 844.2L1111.0 847.2L1111.1 850.2L1111.1 853.2L1111.1 856.2L1111.1 859.2L1111.1 862.2L1111.2 865.2L1111.2 868.2L1111.2 871.2L1111.2 874.2L1111.2 877.2L1111.2 880.2L1111.3 883.2L1111.3 886.2L1111.3 889.2L1111.3 892.2L1111.3 895.2L1111.4 898.2L1111.4 901.2L1111.5 904.2L1111.5 907.2L1111.6 910.2L1111.6 913.2L1111.7 916.2L1111.8 919.2L1111.8 922.2L1111.9 925.2L1112.0 928.2L1112.1 931.2L1112.1 934.2L1112.2 937.2L1112.3 940.2L1112.3 943.2L1112.4 946.2L1112.5 949.2L1112.6 952.2L1112.6 955.2L1112.7 958.2L1112.8 961.2L1112.9 964.2L1113.0 967.2L1113.0 970.2L1113.1 973.2L1113.2 976.2L1113.3 979.2L1113.4 982.2L1113.5 985.2L1113.6 988.2L1113.8 991.2L1113.9 994.2L1114.1 997.2L1114.2 1000.2L1114.4 1003.2L1114.7 1006.2L1115.1 1009.4L1115.7 1013.2L1116.5 1016.7L1117.2 1018.8L1117.9 1018.4L1118.6 1015.8L1119.2 1012.0L1119.7 1008.3L1119.9 1005.3L1120.1 1002.3L1120.3 999.3L1120.4 996.3L1120.5 993.3L1120.6 990.3L1120.7 987.3L1120.8 984.3L1120.9 981.3L1120.9 978.3L1121.0 975.3L1121.1 972.3L1121.1 969.3L1121.2 966.3L1121.3 963.3L1121.3 960.3L1121.4 957.3L1121.5 954.3L1121.5 951.3L1121.6 948.3L1121.7 945.3L1121.8 942.3L1121.8 939.3L1121.9 936.3L1122.0 933.3L1122.1 930.3L1122.2 927.3L1122.3 924.3L1122.5 921.3L1122.6 918.3L1122.7 915.3L1122.9 912.3L1123.0 909.3L1123.1 906.3L1123.2 903.3L1123.2 900.3L1123.3 897.3L1123.4 894.3L1123.4 891.3L1123.5 888.3L1123.5 885.3L1123.5 882.3L1123.6 879.3L1123.6 876.3L1123.6 873.3L1123.7 870.3L1123.7 867.3L1123.7 864.3L1123.8 861.3L1123.8 858.3L1123.8 855.3L1123.9 852.3L1123.9 849.3L1124.0 846.3L1124.0 843.3L1124.0 840.3L1124.1 837.3L1124.1 834.3L1124.1 831.3L1124.2 828.3L1124.2 825.3L1124.3 822.3L1124.3 819.3L1124.3 816.3L1124.4 813.3L1124.4 810.3L1124.5 807.3L1124.5 804.3L1124.5 801.3L1124.6 798.3L1124.6 795.3L1124.7 792.3L1124.7 789.3L1124.8 786.3L1124.9 783.3L1124.9 780.3L1125.0 777.3L1125.0 774.3L1125.1 771.3L1125.2 768.3L1125.2 765.3L1125.3 762.3L1125.4 759.3L1125.4 756.3L1125.5 753.3L1125.6 750.3L1125.6 747.3L1125.7 744.3L1125.8 741.3L1125.8 738.3L1125.9 735.3L1126.0 732.3L1126.0 729.3L1126.1 726.3L1126.2 723.3L1126.3 720.3L1126.3 717.3L1126.4 714.3L1126.5 711.3L1126.5 708.3L1126.6 705.3L1126.7 702.3L1126.7 699.3L1126.8 696.3L1126.9 693.3L1126.9 690.3L1127.0 687.3L1127.0 684.3L1127.1 681.3L1127.1 678.3L1127.2 675.3L1127.2 672.3L1127.3 669.3L1127.3 666.3L1127.4 663.3L1127.4 660.3L1127.5 657.3L1127.5 654.4L1127.5 651.4L1127.6 648.4L1127.6 645.4L1127.6 642.4L1127.7 639.4L1127.7 636.4L1127.7 633.4L1127.8 630.4L1127.8 627.4L1127.8 624.4L1127.8 621.4L1127.9 618.4L1127.9 615.4L1128.0 612.4L1128.0 609.4L1128.1 606.4L1128.1 603.4L1128.2 600.4L1128.2 597.4L1128.3 594.4L1128.4 591.4L1128.4 588.4L1128.5 585.4L1128.6 582.4L1128.6 579.4L1128.7 576.4L1128.8 573.4L1128.8 570.4L1128.9 567.4L1129.0 564.4L1129.0 561.4L1129.1 558.4L1129.2 555.4L1129.2 552.4L1129.3 549.4L1129.4 546.4L1129.5 543.4L1129.5 540.4L1129.6 537.4L1129.7 534.4L1129.7 531.4L1129.8 528.4L1129.9 525.4L1130.0 522.4L1130.0 519.4L1130.1 516.4L1130.2 513.4L1130.2 510.4L1130.3 507.4L1130.4 504.4L1130.4 501.4L1130.5 498.4L1130.6 495.4L1130.6 492.4L1130.7 489.4L1130.8 486.4L1130.9 483.4L1130.9 480.4L1131.0 477.4L1131.1 474.4L1131.1 471.4L1131.2 468.4L1131.3 465.4L1131.4 462.4L1131.4 459.4L1131.5 456.4L1131.6 453.4L1131.7 450.4L1131.8 447.4L1131.9 444.4L1131.9 441.4L1132.0 438.4L1132.1 435.4L1132.2 432.4L1132.3 429.4L1132.3 426.4L1132.4 423.4L1132.5 420.4L1132.6 417.4L1132.6 414.4L1132.7 411.4L1132.8 408.4L1132.9 405.4L1132.9 402.4L1133.0 399.4L1133.1 396.4L1133.1 393.4L1133.2 390.4L1133.3 387.4L1133.3 384.4L1133.4 381.4L1133.5 378.4L1133.5 375.4L1133.6 372.4L1133.7 369.4L1133.8 366.4L1133.8 363.4L1133.9 360.4L1134.0 357.4L1134.0 354.4L1134.1 351.4L1134.2 348.4L1134.3 345.4L1134.4 342.4L1134.4 339.4L1134.5 336.4L1134.6 333.4L1134.7 330.4L1134.9 327.4L1135.0 324.4L1135.1 321.4L1135.2 318.4L1135.3 315.4L1135.5 312.4L1135.6 309.5L1135.7 306.5L1135.9 303.5L1136.0 300.5L1136.2 297.5L1136.4 294.5L1136.5 291.5L1136.7 288.5L1136.9 285.5L1137.0 282.5L1137.2 279.5L1137.3 276.5L1137.5 273.5L1137.6 270.5L1137.8 267.5L1137.9 264.5L1138.1 261.5L1138.2 258.5L1138.3 255.5L1138.4 252.5L1138.4 249.5L1138.5 246.5L1138.5 243.5L1138.6 240.5L1138.7 237.5L1138.7 234.5L1138.8 231.5L1138.8 228.5L1138.9 225.5L1139.0 222.5L1139.1 219.5L1139.2 216.5L1139.2 213.5L1139.3 210.5L1139.4 207.5L1139.5 204.5L1139.6 201.5L1139.6 198.5L1139.7 195.5L1139.7 192.5L1139.8 189.5L1139.9 186.5L1140.0 183.5L1140.2 180.5L1140.4 177.6L1140.7 174.6L1140.9 171.6L1141.2 168.6L1141.5 165.6L1141.8 162.6L1142.2 159.6L1142.6 156.7L1143.1 153.7L1143.7 150.8L1144.4 147.9L1145.2 145.0L1145.9 142.0L1146.6 139.1L1147.3 136.2L1147.9 133.3L1148.4 130.3L1148.8 127.3L1149.3 124.4L1149.7 121.4L1150.0 118.4L1150.3 115.3L1150.6 112.3L1151.1 109.5L1152.9 106.7L1154.0 108.1L1154.9 111.9L1156.8 113.6L1159.9 113.8L1162.7 112.5L1165.0 110.5L1167.7 109.2L1169.3 109.4L1169.8 112.1L1170.2 115.9L1170.5 119.5L1170.9 122.5L1171.2 125.5L1171.5 128.5L1171.9 131.4L1172.4 134.5L1173.0 138.4L1173.8 141.6L1174.7 142.9L1176.7 141.1L1178.7 138.1L1179.6 135.4L1180.2 132.4L1180.7 129.4L1181.2 126.4L1181.7 123.1L1182.2 119.9L1183.3 117.8L1185.6 117.7L1186.7 120.9L1187.1 124.1L1187.3 127.1L1187.5 130.1L1187.6 133.1L1187.7 136.1L1187.8 139.1L1188.0 142.2L1188.1 145.3L1188.2 148.3L1188.5 151.3L1189.3 154.2L1191.1 154.7L1192.7 151.6L1193.4 148.8L1194.0 145.8L1194.5 142.8L1194.9 139.8L1195.2 136.8L1195.6 133.7L1195.8 130.6L1196.0 127.4L1196.3 124.5L1196.8 121.8L1198.7 119.7L1200.0 121.8L1200.9 125.4L1201.5 128.4L1201.9 131.4L1202.3 134.4L1202.6 137.4L1202.8 140.4L1203.0 143.3L1203.1 146.3L1203.3 149.3L1203.4 152.3L1203.5 155.3L1203.7 158.3L1203.8 161.3L1204.0 164.3L1204.1 167.3L1204.3 170.3L1204.4 173.3L1204.5 176.5L1204.7 179.7L1204.8 182.8L1205.1 185.4L1207.1 187.5L1208.2 185.9L1208.9 182.3L1209.4 178.9L1209.8 175.8L1210.1 172.7L1210.5 169.7L1211.3 167.0L1213.3 165.2L1214.9 167.5L1215.9 170.9L1216.3 173.8L1216.6 176.8L1216.7 179.8L1216.9 182.9L1217.1 185.9L1217.3 188.9L1217.4 192.1L1217.6 195.1L1217.9 198.0L1219.0 200.4L1221.1 202.7L1222.2 205.5L1223.2 208.4L1224.3 211.2L1225.1 214.1L1225.4 217.0L1225.7 220.0L1225.9 223.0L1226.0 226.0L1226.2 229.0L1226.5 232.0L1226.7 235.0L1226.9 238.0L1227.2 241.0L1227.6 244.0L1228.2 246.9L1229.0 249.8L1229.9 252.7L1230.9 255.5L1232.0 258.3L1232.7 261.2L1233.2 264.2L1233.5 267.1L1233.9 270.1L1234.3 273.1L1234.7 276.1L1235.0 279.1L1235.4 282.0L1235.8 285.0L1236.1 288.0L1236.4 291.0L1236.8 294.0L1237.2 296.9L1237.8 299.9L1238.5 303.0L1239.5 305.7L1241.5 307.8L1244.0 309.6L1244.9 312.1L1245.7 315.1L1246.2 318.2L1246.5 321.3L1246.7 324.3L1246.9 327.3L1247.0 330.3L1247.1 333.3L1247.3 336.3L1247.4 339.3L1247.5 342.3L1247.6 345.3L1247.8 348.3L1247.9 351.3L1248.2 354.3L1248.7 357.2L1249.7 360.0L1250.7 362.9L1251.8 365.7L1252.8 368.6L1253.4 371.5L1253.8 374.4L1254.2 377.4L1254.5 380.3L1254.8 383.3L1255.0 386.4L1255.2 389.4L1255.4 392.4L1255.6 395.4L1255.8 398.4L1256.0 401.4L1256.1 404.4L1256.2 407.4L1256.3 410.4L1256.5 413.4L1256.6 416.4L1256.7 419.3L1256.9 422.3L1257.0 425.3L1257.2 428.3L1257.4 431.3L1257.5 434.3L1257.7 437.3L1257.8 440.3L1258.0 443.3L1258.2 446.3L1258.4 449.3L1258.6 452.3L1258.7 455.3L1258.9 458.3L1259.1 461.3L1259.4 464.3L1259.6 467.3L1259.8 470.3L1260.1 473.2L1260.4 476.2L1260.7 479.2L1261.0 482.2L1261.3 485.2L1261.7 488.2L1262.2 491.1L1262.7 494.1L1263.2 497.0L1263.6 500.0L1263.9 503.0L1264.2 506.0L1264.4 509.0L1264.6 512.0L1264.8 515.0L1265.0 518.0L1265.2 520.9L1265.4 523.9L1265.5 526.9L1265.7 529.9L1265.9 532.9L1266.0 535.9L1266.2 538.9L1266.3 541.9L1266.4 544.9L1266.5 547.9L1266.6 550.9L1266.8 553.9L1267.1 556.9L1267.4 559.9L1267.7 562.9L1268.1 565.8L1268.6 568.8L1269.2 571.7L1269.7 574.7L1270.1 577.7L1270.3 580.6L1270.5 583.6L1270.7 586.6L1270.8 589.6L1270.9 592.6L1271.1 595.6L1271.1 598.6L1271.2 601.6L1271.3 604.6L1271.4 607.6L1271.4 610.6L1271.5 613.6L1271.6 616.6L1271.7 619.6L1271.7 622.6L1271.8 625.7L1271.9 628.7L1272.0 631.7L1272.1 634.6L1272.6 637.6L1273.4 640.5L1274.2 643.4L1274.6 646.4L1274.9 649.4L1275.1 652.3L1275.4 655.3L1275.6 658.3L1275.8 661.3L1276.1 664.3L1276.3 667.3L1276.5 670.3L1276.7 673.3L1276.9 676.3L1277.1 679.3L1277.3 682.3L1277.5 685.3L1277.7 688.2L1277.9 691.2L1278.1 694.2L1278.2 697.2L1278.4 700.2L1278.5 703.2L1278.6 706.2L1278.8 709.2L1279.0 712.2L1279.2 715.2L1279.4 718.2L1279.6 721.2L1279.9 724.2L1280.2 727.2L1280.6 730.2L1280.9 733.1L1281.5 736.1L1282.2 739.0L1282.8 741.9L1283.2 744.9L1283.5 747.9L1283.8 750.9L1284.1 753.9L1284.4 756.8L1284.8 759.8L1285.3 762.8L1285.8 765.7L1286.3 768.7L1286.7 771.7L1287.1 774.6L1287.3 777.6L1287.5 780.6L1287.7 783.6L1287.9 786.6L1288.1 789.6L1288.3 792.6L1288.5 795.6L1288.7 798.6L1288.9 801.6L1289.2 804.6L1289.6 807.5L1290.3 810.4L1291.3 813.3L1292.2 816.2L1292.8 819.5L1293.7 821.9L1296.9 822.9L1298.0 824.6L1298.3 827.3L1298.5 830.6L1298.7 834.0L1299.1 837.1L1300.2 840.6L1301.9 842.5L1304.4 840.9L1305.8 838.1L1306.6 834.4L1307.4 832.6L1308.5 834.4L1309.6 838.0L1310.3 841.2L1310.7 844.1L1311.0 847.1L1311.3 850.1L1311.7 853.1L1312.3 856.3L1313.1 859.2L1315.2 860.6L1317.9 861.8L1319.4 864.4L1320.4 867.5L1320.9 870.4L1321.4 873.3L1321.7 876.3L1322.0 879.3L1322.3 882.3L1322.5 885.4L1322.8 888.4L1323.1 891.3L1323.7 894.5L1325.0 897.0L1327.9 896.2L1330.2 898.0L1332.1 900.3L1334.0 898.6L1335.5 895.4L1336.1 892.5L1336.6 889.6L1336.9 886.5L1337.2 883.5L1337.4 880.5L1337.6 877.5L1337.8 874.5L1337.9 871.5L1338.0 868.5L1338.2 865.5L1338.3 862.5L1338.5 859.5L1338.6 856.5L1338.8 853.5L1338.9 850.5L1339.1 847.5L1339.2 844.5L1339.4 841.5L1339.5 838.5L1339.7 835.5L1339.8 832.5L1340.0 829.5L1340.1 826.5L1340.3 823.5L1340.4 820.5L1340.6 817.6L1340.7 814.6L1340.8 811.6L1341.0 808.6L1341.1 805.6L1341.3 802.6L1341.4 799.6L1341.7 796.6L1342.1 793.6L1342.5 790.6L1342.9 787.7L1343.2 784.7L1343.5 781.7L1343.8 778.7L1344.1 775.7L1344.3 772.7L1344.5 769.7L1344.7 766.7L1344.9 763.7L1345.1 760.8L1345.2 757.8L1345.4 754.8L1345.5 751.8L1345.7 748.8L1345.8 745.8L1346.0 742.8L1346.1 739.8L1346.3 736.8L1346.4 733.8L1346.6 730.8L1346.7 727.8L1346.8 724.8L1347.0 721.8L1347.1 718.8L1347.3 715.8L1347.4 712.8L1347.6 709.8L1347.7 706.8L1347.9 703.8L1348.0 700.8L1348.2 697.8L1348.3 694.8L1348.5 691.8L1348.6 688.8L1348.8 685.8L1348.9 682.8L1349.1 679.9L1349.3 676.9L1349.4 673.9L1349.6 670.9L1349.7 667.9L1349.8 664.9L1349.9 661.9L1350.0 658.9L1350.1 655.9L1350.2 652.9L1350.3 649.9L1350.4 646.9L1350.5 643.9L1350.6 640.9L1350.7 637.9L1350.8 634.9L1350.9 631.9L1351.0 628.9L1351.1 625.9L1351.2 622.9L1351.3 619.9L1351.4 616.9L1351.5 613.9L1351.6 610.9L1351.7 607.9L1351.8 604.9L1351.9 601.9L1352.0 598.9L1352.1 595.9L1352.2 592.9L1352.4 589.9L1352.6 586.9L1352.8 583.9L1353.1 580.9L1353.3 577.9L1353.5 575.0L1353.7 572.0L1353.9 569.0L1354.0 566.0L1354.1 563.0L1354.2 560.0L1354.2 557.0L1354.3 554.0L1354.4 551.0L1354.4 548.0L1354.5 545.0L1354.5 542.0L1354.6 539.0L1354.7 536.0L1354.8 533.0L1354.9 530.0L1355.0 527.0L1355.0 524.0L1355.1 521.0L1355.2 518.0L1355.4 515.0L1355.5 512.0L1355.6 509.0L1355.8 506.0L1356.0 503.0L1356.2 500.0L1356.4 497.0L1356.7 494.0L1356.9 491.0L1357.1 488.0L1357.2 485.0L1357.4 482.1L1357.5 479.1L1357.6 476.1L1357.8 473.1L1357.9 470.1L1358.0 467.1L1358.1 464.1L1358.2 461.1L1358.3 458.1L1358.4 455.1L1358.5 452.1L1358.6 449.1L1358.8 446.1L1358.9 443.1L1359.0 440.1L1359.1 437.1L1359.2 434.1L1359.3 431.1L1359.4 428.1L1359.5 425.1L1359.6 422.1L1359.7 419.1L1359.8 416.1L1359.9 413.1L1359.9 410.0L1360.0 407.0L1360.1 404.0L1360.2 401.0L1360.4 398.1L1360.7 395.2L1361.7 392.3L1362.9 389.5L1363.8 386.6L1364.1 383.7L1364.4 380.7L1364.7 377.7L1364.8 374.7L1365.0 371.7L1365.2 368.7L1365.4 365.7L1365.5 362.7L1365.6 359.7L1365.8 356.7L1365.9 353.7L1366.0 350.7L1366.2 347.7L1366.4 344.7L1366.5 341.7L1366.7 338.7L1366.9 335.7L1367.1 332.7L1367.3 329.8L1367.5 326.8L1367.7 323.8L1368.0 320.8L1368.2 317.8L1368.5 314.8L1368.9 311.8L1369.2 308.8L1369.5 305.9L1369.8 302.9L1370.1 299.9L1370.3 296.9L1370.6 293.9L1370.9 290.9L1371.3 287.9L1371.7 285.0L1372.1 282.0L1372.6 279.0L1373.1 276.1L1373.5 273.1L1373.9 270.1L1374.2 267.2L1374.5 264.2L1374.7 261.2L1375.0 258.2L1375.4 255.2L1375.8 252.2L1376.3 249.3L1376.8 246.3L1377.4 243.4L1377.9 240.4L1378.4 237.5L1378.9 234.5L1379.4 231.5L1379.7 228.6L1380.0 225.6L1380.3 222.6L1380.6 219.6L1380.9 216.6L1381.2 213.6L1381.5 210.6L1381.7 207.7L1382.0 204.7L1382.3 201.7L1382.6 198.7L1383.0 195.7L1383.5 192.7L1384.2 189.8L1385.7 186.9L1386.8 187.7L1387.5 191.1L1388.3 194.6L1389.5 198.0L1391.0 199.4L1393.2 196.8L1394.9 194.6L1395.7 196.6L1396.4 200.4L1396.9 203.5L1397.2 206.8L1397.8 209.4L1400.2 211.0L1403.1 211.9L1403.7 214.6L1404.0 218.6L1404.3 221.9L1405.8 222.7L1407.7 222.2L1408.4 219.5L1408.7 215.6L1408.9 212.2L1409.1 209.2L1409.1 206.2L1409.2 203.2L1409.3 200.2L1409.4 197.2L1409.6 193.9L1410.0 190.1L1410.5 188.0L1411.1 189.4L1411.8 193.0L1412.2 196.5L1412.4 199.6L1412.5 202.8L1412.6 206.0L1412.7 209.0L1412.9 211.7L1414.2 214.0L1415.9 216.3L1416.4 219.4L1417.1 222.4L1418.7 225.3L1420.5 225.1L1422.0 221.9L1423.2 223.5L1424.4 227.0L1425.4 229.9L1426.4 232.8L1427.9 235.5L1430.1 236.5L1431.7 233.6L1432.3 230.7L1432.6 227.7L1432.8 224.6L1433.1 221.6L1434.2 218.5L1436.1 217.8L1438.0 220.6L1438.9 223.4L1439.6 226.4L1440.0 229.4L1440.3 232.5L1440.4 235.7L1440.7 238.6L1441.3 241.2L1443.5 243.3L1446.6 244.0L1448.0 245.9L1448.9 249.2L1449.8 252.2L1450.6 255.1L1451.5 258.0L1452.6 261.1L1453.9 263.8L1456.4 262.8L1457.6 260.4L1458.3 257.3L1458.6 254.2L1458.8 251.2L1458.9 248.2L1459.2 245.2L1459.9 242.0L1461.4 239.3L1463.3 240.7L1464.7 243.8L1465.5 246.9L1467.9 248.2L1469.5 246.9L1470.4 243.3L1470.8 240.3L1471.0 237.2L1471.2 234.1L1471.4 231.1L1472.0 228.3L1474.1 226.0L1476.6 227.6L1477.1 229.9L1477.4 232.8L1477.5 236.0L1477.7 239.3L1477.8 242.5L1477.9 245.5L1478.0 248.6L1478.0 251.6L1478.1 254.6L1478.3 257.5L1479.7 260.5L1480.8 259.1L1481.6 255.6L1482.0 252.6L1482.2 249.6L1482.4 246.6L1482.6 243.6L1483.1 240.3L1483.9 236.7L1485.0 235.1L1486.7 237.4L1487.6 240.5L1487.8 243.8L1488.0 246.7L1489.9 248.9L1491.5 248.1L1492.3 244.6L1492.9 241.4L1493.2 238.3L1493.5 235.3L1494.0 232.5L1495.7 230.1L1497.1 232.3L1498.1 235.8L1498.5 238.7L1498.7 241.7L1498.9 244.7L1499.1 247.7L1499.5 250.7L1499.8 253.7L1500.2 256.7L1500.7 259.7L1501.4 263.4L1502.3 266.5L1503.6 267.0L1505.5 264.1L1506.7 260.8L1507.8 258.3L1509.6 259.9L1510.6 263.0L1510.8 266.0L1510.9 269.1L1511.0 272.1L1511.3 275.1L1512.5 278.3L1513.6 278.0L1514.3 274.6L1514.7 271.3L1514.9 268.3L1515.0 265.3L1515.1 262.3L1515.2 259.2L1515.4 256.3L1515.8 252.7L1516.5 249.5L1517.2 249.9L1518.0 253.3L1518.6 256.6L1518.9 259.7L1519.1 262.8L1519.6 265.6L1521.2 268.5L1524.0 268.9L1525.5 267.6L1526.3 264.0L1528.0 261.4L1530.2 261.2L1531.5 264.4L1531.7 267.5L1531.8 270.4L1531.9 273.4L1531.9 276.5L1531.9 279.5L1532.0 282.5L1532.1 285.7L1532.2 288.8L1532.4 291.9L1532.7 294.7L1534.4 297.0L1535.2 295.5L1535.7 291.9L1536.2 288.4L1536.9 284.7L1537.6 282.2L1538.7 283.9L1540.3 287.1L1542.3 289.4L1545.2 290.4L1546.1 292.7L1546.6 296.1L1547.5 299.0L1548.6 301.8L1549.8 304.8L1551.2 306.9L1553.1 304.4L1554.2 301.6L1555.0 298.7L1555.8 295.8L1556.9 292.4L1558.1 289.7L1559.3 290.8L1560.5 294.3L1561.6 297.3L1562.7 300.1L1563.1 303.0L1563.3 306.0L1563.4 309.0L1563.5 312.0L1563.7 315.0L1564.2 317.9L1565.1 320.8L1565.9 323.7L1566.5 327.4L1567.1 330.8L1567.7 331.5L1568.3 328.6L1569.2 325.1L1570.9 322.7L1572.8 320.3L1574.5 317.8L1575.8 314.4L1577.4 314.0L1579.1 317.0L1579.7 319.7L1580.1 322.7L1580.4 325.8L1580.8 328.9L1581.2 332.0L1581.6 335.2L1582.2 337.9L1584.5 339.9L1585.6 338.8L1586.1 335.3L1586.8 331.8L1588.8 329.3L1590.0 330.9L1590.9 334.5L1592.0 337.9L1593.2 340.0L1594.9 337.4L1595.4 334.5L1595.6 331.4L1595.9 328.4L1597.3 325.5L1598.5 326.2L1599.4 329.7L1599.9 333.0L1600.3 335.9L1600.5 338.9L1600.8 341.9L1601.0 344.9L1601.3 347.9L1601.6 350.9L1601.9 353.9L1602.1 356.9L1602.3 359.9L1602.5 362.9L1602.6 365.8L1602.8 368.8L1603.0 371.8L1603.1 374.8L1603.3 377.9L1603.5 380.9L1603.8 383.8L1604.3 387.2L1605.5 389.6L1607.9 387.2L1609.0 386.5L1609.4 388.8L1609.6 392.5L1609.9 396.4L1610.1 399.5L1610.4 402.5L1610.6 405.5L1610.9 408.5L1611.4 411.4L1612.2 414.5L1613.4 417.2L1615.9 418.9L1616.8 421.1L1617.2 424.0L1617.5 427.2L1617.7 430.4L1618.0 433.6L1618.4 436.5L1618.8 439.5L1619.2 442.5L1619.8 445.4L1620.8 448.2L1622.0 451.0L1623.1 453.8L1624.1 456.7L1624.4 459.6L1624.5 462.6L1624.6 465.6L1624.7 468.6L1624.9 471.6L1625.2 474.6L1625.9 477.5L1626.6 480.5L1627.2 483.4L1627.5 486.4L1627.8 489.4L1628.1 492.4L1628.3 495.3L1628.5 498.4L1628.6 501.4L1628.8 504.4L1629.0 507.4L1629.5 510.4L1630.7 513.7L1632.0 513.3L1633.5 510.0L1634.1 507.1L1634.5 504.1L1635.0 501.0L1635.8 498.0L1637.1 496.0L1637.7 498.0L1638.2 501.6L1638.6 505.3L1638.9 508.3L1639.2 511.3L1639.4 514.3L1639.7 517.3L1639.9 520.3L1640.1 523.3L1640.3 526.3L1640.5 529.3L1640.8 532.3L1641.0 535.5L1641.2 539.0L1641.6 541.9L1642.6 543.5L1645.9 544.5L1647.9 546.1L1648.2 548.7L1648.3 551.9L1648.5 555.2L1648.6 558.3L1648.8 561.3L1649.0 564.3L1649.1 567.3L1649.3 570.3L1649.5 573.3L1649.6 576.3L1649.8 579.3L1649.9 582.3L1650.1 585.3L1650.3 588.3L1650.5 591.3L1650.8 594.3L1651.0 597.3L1651.2 600.2L1651.5 603.2L1651.8 606.2L1652.0 609.2L1652.3 612.2L1652.6 615.2L1652.8 618.2L1653.1 621.2L1653.3 624.2L1653.5 627.1L1653.8 630.1L1654.0 633.1L1654.1 636.1L1654.3 639.1L1654.4 642.1L1654.6 645.1L1654.8 648.1L1655.0 651.1L1655.2 654.1L1655.4 657.1L1655.6 660.1L1655.8 663.1L1656.0 666.1L1656.2 669.1L1656.5 672.0L1656.7 675.0L1657.0 678.0L1657.3 681.0L1657.6 684.0L1657.9 687.0L1658.2 690.0L1658.4 693.0L1658.7 695.9L1658.9 698.9L1659.1 701.9L1659.3 704.9L1659.4 707.9L1659.6 710.9L1659.7 713.9L1659.9 716.9L1660.0 719.9L1660.1 722.9L1660.2 725.9L1660.2 728.9L1660.3 731.9L1660.3 734.9L1660.4 737.9L1660.4 740.9L1660.5 743.9L1660.5 746.9L1660.6 749.9L1660.8 752.9L1661.0 755.9L1661.2 758.9L1661.4 761.9L1661.7 764.9L1661.9 767.9L1662.3 770.8L1662.6 773.8L1662.9 776.8L1663.2 779.8L1663.4 782.8L1663.6 785.8L1663.7 788.8L1663.8 791.8L1663.8 794.8L1663.9 797.8L1664.0 800.8L1664.1 803.8L1664.2 806.8L1664.4 809.8L1664.6 812.8L1664.9 815.7L1665.2 818.7L1665.4 821.7L1665.6 824.7L1665.8 827.7L1666.0 830.7L1666.1 833.7L1666.2 836.7L1666.4 839.7L1666.5 842.7L1666.6 845.7L1666.7 848.7L1666.8 851.7L1666.9 854.7L1667.0 857.7L1667.1 860.7L1667.2 863.7L1667.3 866.7L1667.4 869.7L1667.5 872.7L1667.7 875.7L1667.9 878.7L1668.2 881.6L1668.5 884.6L1668.7 887.6L1668.9 890.6L1669.1 893.6L1669.2 896.6L1669.4 899.6L1669.5 902.6L1669.7 905.6L1669.8 908.6L1669.9 911.6L1670.0 914.6L1670.1 917.6L1670.2 920.6L1670.3 923.6L1670.4 926.6L1670.5 929.6L1670.6 932.6L1670.7 935.6L1670.8 938.6L1671.0 941.6L1671.2 944.6L1671.5 947.6L1671.8 950.5L1672.0 953.5L1672.2 956.5L1672.4 959.5L1672.5 962.5L1672.7 965.5L1672.8 968.5L1672.9 971.5L1673.1 974.5L1673.2 977.5L1673.4 980.5L1673.5 983.5L1673.7 986.5L1673.9 989.5L1674.2 992.5L1674.7 995.4L1675.5 998.3L1676.3 1001.2L1677.0 1004.1L1677.6 1007.1L1677.9 1010.1L1678.2 1013.0L1678.4 1016.0L1678.6 1019.0L1678.7 1022.0L1678.8 1025.0L1679.0 1028.0L1679.3 1031.1L1679.9 1034.0L1682.0 1036.4L1684.3 1036.6L1686.1 1033.7L1686.9 1030.8L1687.2 1027.8L1687.5 1024.8L1687.7 1021.7L1687.9 1018.7L1688.1 1015.7L1688.3 1012.7L1688.5 1009.7L1688.8 1006.7L1689.2 1003.8L1689.8 1000.9L1690.9 998.0L1691.6 995.1L1692.1 992.1L1692.3 989.2L1692.3 986.2L1692.3 983.2L1692.3 980.2L1692.3 977.2L1692.4 974.2L1692.4 971.2L1692.5 968.2L1692.6 965.2L1692.7 962.2L1692.8 959.2L1692.9 956.2L1693.0 953.2L1693.1 950.2L1693.2 947.2L1693.2 944.2L1693.3 941.2L1693.3 938.2L1693.4 935.2L1693.4 932.2L1693.5 929.2L1693.6 926.2L1693.7 923.2L1693.8 920.2L1694.1 917.2L1694.5 914.2L1694.9 911.2L1695.4 908.3L1696.2 905.4L1696.8 902.4L1697.2 899.5L1697.6 896.5L1697.9 893.5L1698.1 890.5L1698.3 887.5L1698.5 884.5L1698.6 881.5L1698.8 878.5L1698.9 875.5L1699.0 872.5L1699.0 869.5L1699.1 866.5L1699.1 863.5L1699.2 860.5L1699.3 857.5L1699.4 854.5L1699.5 851.5L1699.7 848.6L1699.9 845.6L1700.1 842.6L1700.3 839.6L1700.5 836.6L1700.8 833.6L1701.0 830.6L1701.2 827.6L1701.4 824.6L1701.6 821.6L1701.7 818.6L1701.9 815.6L1702.0 812.6L1702.1 809.6L1702.3 806.6L1702.4 803.6L1702.5 800.6L1702.6 797.6L1702.8 794.6L1703.0 791.6L1703.5 788.7L1704.4 785.8L1705.2 782.9L1705.5 780.0L1705.7 776.9L1705.9 773.9L1706.2 770.9L1706.7 768.0L1707.9 765.3L1709.0 762.4L1709.8 759.6L1710.5 756.6L1710.9 753.7L1711.1 750.7L1711.3 747.7L1711.4 744.7L1711.5 741.7L1711.7 738.7L1711.9 735.7L1712.2 732.7L1712.5 729.7L1712.9 726.7L1713.3 723.8L1713.7 720.8L1714.1 717.8L1714.6 714.9L1715.2 711.9L1715.7 709.0L1716.2 706.0L1716.7 703.0L1717.1 700.1L1717.5 697.1L1718.0 694.1L1718.4 691.2L1718.7 688.2L1719.0 685.2L1719.3 682.2L1719.4 679.2L1719.6 676.2L1719.8 673.2L1719.9 670.2L1720.1 667.2L1720.4 664.2L1720.6 661.2L1721.0 658.3L1721.4 655.3L1722.3 652.5L1723.4 649.6L1724.4 646.4L1725.8 644.5L1729.0 643.9L1731.8 645.0L1733.2 647.6L1733.7 651.4L1734.2 654.3L1735.5 653.5L1736.9 650.3L1737.5 646.8L1738.5 647.3L1739.8 650.7L1740.5 653.7L1741.0 656.7L1741.6 659.6L1742.6 662.4L1743.9 665.1L1745.2 667.8L1746.6 670.7L1747.8 674.0L1748.5 673.8L1748.7 670.9L1749.0 667.0L1749.6 663.7L1751.0 661.2L1753.6 662.9L1755.8 665.0L1756.3 667.6L1756.5 670.7L1756.6 673.8L1756.9 676.9L1757.2 679.9L1757.5 682.9L1757.9 685.8L1758.2 688.8L1758.5 691.8L1758.7 694.8L1759.0 697.8L1759.3 700.8L1759.7 703.8L1760.1 706.7L1760.6 709.7L1761.1 712.6L1761.7 715.6L1762.4 718.5L1763.0 721.4L1763.6 724.4L1764.1 727.3L1764.6 730.3L1765.1 733.3L1765.4 736.2L1765.8 739.2L1766.1 742.2L1766.5 745.2L1767.2 748.1L1768.2 750.9L1769.0 753.8L1769.4 756.8L1769.7 759.7L1769.9 762.7L1770.1 765.7L1770.3 768.8L1770.5 771.8L1770.6 774.9L1770.8 778.0L1771.1 780.9L1771.8 783.5L1774.1 785.7L1774.4 788.4L1774.6 791.4L1774.7 794.5L1774.8 797.6L1775.1 800.6L1775.3 803.6L1775.6 806.6L1776.0 809.6L1776.3 812.6L1776.7 815.6L1777.2 818.5L1777.6 821.5L1778.0 824.5L1778.3 827.5L1778.5 830.4L1778.8 833.4L1779.0 836.4L1779.2 839.4L1779.4 842.4L1779.6 845.4L1779.9 848.4L1780.2 851.4L1780.6 854.3L1781.4 857.3L1782.1 860.2L1782.5 863.1L1782.8 866.1L1783.0 869.1L1783.3 872.1L1783.5 875.1L1783.9 878.1L1784.3 881.1L1784.7 884.0L1785.0 887.0L1785.4 890.0L1785.6 893.0L1785.9 896.0L1786.2 898.9L1786.6 901.9L1787.0 904.9L1787.6 907.8L1788.1 910.8L1788.6 913.8L1789.0 916.7L1789.5 919.7L1789.9 922.7L1790.3 925.6L1790.6 928.7L1790.9 931.7L1791.5 934.6L1792.9 937.6L1794.9 936.4L1796.7 934.7L1798.0 937.6L1798.6 940.8L1798.9 943.8L1799.1 946.8L1799.4 949.8L1799.7 952.8L1800.4 956.4L1801.4 959.8L1802.3 961.0L1803.5 958.7L1804.5 955.1L1805.0 952.1L1805.3 949.0L1805.7 946.0L1806.6 943.0L1808.2 941.3L1809.1 944.6L1809.9 947.7L1810.7 946.3L1811.5 942.6L1811.7 939.4L1811.8 936.5L1811.9 933.4L1811.9 930.4L1812.0 927.4L1812.1 924.4L1812.2 921.3L1812.4 918.0L1812.8 914.9L1813.6 912.8L1816.4 911.3L1818.8 909.2L1819.4 906.6L1819.5 903.8L1819.6 900.8L1819.7 897.7L1819.8 894.5L1819.8 891.4L1819.9 888.4L1820.0 885.4L1820.1 882.4L1820.2 879.4L1820.3 876.4L1820.4 873.4L1820.5 870.4L1820.6 867.4L1820.7 864.4L1820.9 861.4L1821.1 858.4L1821.4 855.2L1822.0 851.5L1822.7 850.5L1823.2 853.9L1823.7 857.8L1824.8 857.9L1826.4 854.8L1827.7 852.1L1828.6 849.2L1828.8 846.3L1829.0 843.3L1829.2 840.3L1829.3 837.3L1829.4 834.3L1829.5 831.2L1829.6 828.2L1829.7 825.2L1829.8 822.2L1829.9 819.2L1830.1 816.3L1830.2 813.3L1830.5 810.3L1830.8 807.3L1831.2 804.3L1831.6 801.4L1832.0 798.4L1832.4 795.4L1832.7 792.4L1833.0 789.4L1833.5 786.5L1834.1 783.0L1834.8 779.6L1836.2 778.5L1839.2 779.7L1841.3 781.9L1843.2 784.6L1845.0 786.7L1847.1 784.9L1848.1 781.9L1848.3 779.0L1848.5 776.0L1848.6 773.0L1848.7 769.9L1848.9 766.8L1849.2 763.8L1849.7 760.9L1850.2 757.9L1850.8 755.0L1851.4 751.8L1852.1 748.6L1853.6 746.7L1855.7 746.8L1856.5 750.1L1857.5 753.5L1859.1 756.1L1860.5 753.7L1862.3 752.3L1864.4 754.8L1865.7 757.5L1867.0 760.2L1868.5 762.9L1869.4 765.8L1869.9 769.0L1870.7 771.4L1873.6 772.7L1876.5 771.9L1878.3 774.0L1879.4 777.0L1880.1 779.9L1880.7 782.9L1881.4 785.8L1882.2 788.7L1883.0 791.6L1883.6 794.6L1884.1 797.5L1884.6 800.5L1884.9 803.5L1885.2 806.4L1885.4 809.4L1885.6 812.4L1885.9 815.4L1886.3 818.6L1886.9 821.8L1887.8 824.1L1890.5 825.6L1893.1 823.6L1894.7 823.9L1895.6 827.4L1896.2 830.5L1896.5 833.5L1896.8 836.5L1897.1 839.5L1897.4 842.5L1897.6 845.5L1897.9 848.5L1898.1 851.4L1898.3 854.4L1898.6 857.4L1898.8 860.4L1899.0 863.4L1899.2 866.4L1899.4 869.4L1899.6 872.4L1899.8 875.4L1899.9 878.4L1900.0 881.4L1900.1 884.4L1900.3 887.4L1900.6 890.4L1901.5 893.9L1902.5 894.6L1903.4 891.1L1904.4 887.4L1906.0 887.2L1907.9 890.0L1908.5 892.7L1908.8 895.6L1909.1 898.7L1909.3 901.8L1909.5 904.9L1909.7 907.9L1909.9 910.9L1910.1 913.9L1910.3 916.9L1910.5 919.9L1910.7 922.9L1910.9 925.9L1911.1 928.9L1911.3 931.9L1911.6 934.9L1912.1 937.8L1913.0 940.7L1913.9 943.6L1914.6 946.5L1915.3 949.4L1916.0 952.3L1916.6 955.3L1917.2 958.2L1917.9 961.1L1919.0 963.9L1920.1 966.7L1920.7 969.6L1921.1 972.6L1921.4 975.6L1921.6 978.6L1921.6 981.6L1921.6 984.6L1921.6 987.6L1921.5 990.6L1922.4 993.5L1923.9 996.1L1925.9 998.4L1927.1 1001.1L1927.9 1004.0L1928.9 1006.8L1929.9 1009.7L1930.5 1012.6L1931.0 1015.5L1931.4 1018.5L1931.7 1021.5L1932.0 1024.5L1932.4 1027.5L1933.2 1030.3L1934.5 1033.1L1936.0 1035.8L1938.4 1037.7L1940.9 1038.2L1942.6 1035.4L1943.2 1032.6L1943.7 1029.5L1944.3 1026.3L1945.0 1023.6L1948.0 1023.0L1948.7 1020.9L1949.1 1017.4L1949.5 1014.3L1949.8 1011.2L1950.4 1008.4L1951.8 1005.7L1953.0 1002.9L1953.9 1000.1L1954.6 997.1L1955.0 994.1L1955.4 991.1L1956.2 988.4L1958.3 986.1L1960.4 983.8L1960.8 981.1L1961.0 978.1L1961.1 975.0L1961.3 971.9L1961.4 968.7L1961.6 965.6L1961.9 962.8L1963.3 960.3L1966.2 960.4L1968.9 961.2L1970.3 958.7L1970.9 955.4L1971.1 952.5L1971.3 949.5L1971.4 946.4L1971.7 943.4L1971.9 940.4L1972.3 937.4L1973.5 934.8L1975.1 932.2L1975.5 929.3L1975.7 926.4L1975.9 923.3L1976.1 920.2L1976.4 917.2L1976.6 914.0L1976.9 911.1L1978.0 908.4L1979.7 907.8L1980.4 910.4L1980.8 914.3L1981.1 917.6L1981.3 921.1L1981.4 924.5L1981.7 927.2L1983.3 928.6L1985.5 927.6L1986.6 924.2L1987.0 921.3L1987.2 918.3L1987.3 915.3L1987.5 912.2L1987.7 909.2L1987.9 906.1L1988.2 903.1L1988.7 900.3L1990.4 897.6L1992.6 899.4L1993.4 902.1L1993.8 905.1L1994.2 908.2L1994.5 911.9L1994.8 915.2L1996.2 915.9L1998.9 915.2L2000.4 912.2L2001.2 909.3L2001.9 906.4L2002.9 903.1L2004.3 901.1L2006.2 903.7L2006.6 906.4L2006.9 909.4L2007.1 912.5L2007.3 915.6L2007.5 918.6L2007.7 921.6L2008.0 924.6L2008.3 927.6L2009.0 930.6L2010.2 933.3L2012.4 935.4L2015.4 936.1L2018.0 936.8L2019.3 939.6L2020.1 942.7L2020.5 946.0L2021.5 948.2L2024.5 949.5L2026.9 950.9L2027.9 953.7L2028.8 956.7L2030.5 959.3L2031.3 962.0L2031.6 965.0L2031.8 968.0L2032.1 971.0L2032.3 974.0L2032.6 977.0L2032.8 980.0L2033.1 983.0L2033.4 986.0L2033.9 989.0L2034.6 991.9L2035.4 994.8L2036.0 997.9L2036.5 1001.3L2037.4 1003.2L2040.4 1003.9L2042.0 1006.5L2043.0 1009.4L2043.6 1012.4L2044.6 1015.2L2046.2 1017.7L2047.3 1020.5L2048.1 1023.4L2048.5 1026.4L2048.7 1029.4L2048.8 1032.4L2048.9 1035.4L2049.1 1038.4L2049.1 1041.7L2049.3 1044.8L2049.5 1047.3L2052.1 1049.0L2055.0 1049.8L2057.9 1048.4L2058.3 1049.7L2058.6 1053.1L2058.8 1057.0L2059.2 1060.4L2059.7 1064.2L2060.3 1067.0L2061.4 1066.8L2063.0 1063.7L2063.6 1060.8L2064.1 1057.7L2064.8 1054.8L2066.1 1051.9L2068.4 1050.5L2071.8 1051.2L2072.4 1050.3L2072.6 1047.1L2072.7 1043.1L2072.9 1039.9L2073.2 1036.9L2073.4 1033.9L2073.8 1031.0L2074.3 1028.0L2075.0 1025.1L2075.8 1022.2L2076.8 1019.3L2078.1 1016.7L2079.6 1015.1" fill="none" stroke="#ff0000" stroke-width="6" stroke-linejoin="round" stroke-linecap="butt" shape-rendering="crispEdges"/>
<path fill="#000" fill-rule="evenodd" d="M280 51H2084V1506H280Z M285 57V1501H2079V57Z"/>
<path d="M579.3 56h6V81h-6zM579.3 1502h6V1474h-6zM879.2 56h6V81h-6zM879.2 1502h6V1474h-6zM1179.0 56h6V81h-6zM1179.0 1502h6V1474h-6zM1478.8 56h6V81h-6zM1478.8 1502h6V1474h-6zM1778.7 56h6V81h-6zM1778.7 1502h6V1474h-6zM284 1210.9H310v5.4H284zM2080 1210.9H2053v5.4H2080zM284 921.0H310v5.4H284zM2080 921.0H2053v5.4H2080zM284 631.1H310v5.4H284zM2080 631.1H2053v5.4H2080zM284 341.2H310v5.4H284zM2080 341.2H2053v5.4H2080z" fill="#000"/>
<text class="tick" transform="translate(282.3 1583.2) scale(1 1.043)" text-anchor="middle">800</text>
<text class="tick" transform="translate(582.1 1583.2) scale(1 1.043)" text-anchor="middle">850</text>
<text class="tick" transform="translate(882.0 1583.2) scale(1 1.043)" text-anchor="middle">900</text>
<text class="tick" transform="translate(1181.8 1583.2) scale(1 1.043)" text-anchor="middle">950</text>
<text class="tick" transform="translate(1481.6 1583.2) scale(1 1.043)" text-anchor="middle">1000</text>
<text class="tick" transform="translate(1781.5 1583.2) scale(1 1.043)" text-anchor="middle">1050</text>
<text class="tick" transform="translate(2081.3 1583.2) scale(1 1.043)" text-anchor="middle">1100</text>
<text class="tick" transform="translate(252 1522.0) scale(1 1.043)" text-anchor="end">0</text>
<text class="tick" transform="translate(252 1232.1) scale(1 1.043)" text-anchor="end">20</text>
<text class="tick" transform="translate(252 942.2) scale(1 1.043)" text-anchor="end">40</text>
<text class="tick" transform="translate(252 652.3) scale(1 1.043)" text-anchor="end">60</text>
<text class="tick" transform="translate(252 362.4) scale(1 1.043)" text-anchor="end">80</text>
<text class="tick" transform="translate(252 72.5) scale(1 1.043)" text-anchor="end">100</text>
<text class="title" x="1181.1" y="1729.9" text-anchor="middle">Wavelength (nm)</text>
<text class="title" transform="translate(118.9 777.5) rotate(-90)" text-anchor="middle">Reflectivity</text>
<text class="title" transform="translate(2229.9 778.5) rotate(-90)" text-anchor="middle">Intensity (a.u.)</text>
<rect x="294" y="100" width="834" height="156" fill="#fff" stroke="#000" stroke-width="2" shape-rendering="crispEdges"/>
<line x1="302.5" y1="141.8" x2="433" y2="141.8" stroke="#ff0000" stroke-width="6.2" stroke-linecap="round"/>
<line x1="302.3" y1="215.4" x2="421.6" y2="215.4" stroke="#0000ff" stroke-width="5.3" stroke-dasharray="8.1 14.1" stroke-linecap="round"/>
<text class="leg" x="448.2" y="160.4">Reflectance spectra</text>
<text class="leg" x="448.2" y="234.6">Photoluminescence spectra</text>
<ellipse cx="582" cy="778" rx="40.8" ry="37.4" fill="none" stroke="#000" stroke-width="2"/>
<ellipse cx="1287" cy="1350.8" rx="40.8" ry="37.6" fill="none" stroke="#000" stroke-width="2"/>
<path d="M549.2 752.8 C 520 715, 470 680, 353 670.4" fill="none" stroke="#000" stroke-width="2.3"/>
<polygon points="315.6,668.5 353.2,660.3 353.2,679" fill="#000"/>
<path d="M1309.5 1317.9 C 1340 1290, 1450 1275, 1641 1268.4" fill="none" stroke="#000" stroke-width="2.3"/>
<polygon points="1679.1,1267.4 1640.2,1259 1641.5,1277.3" fill="#000"/>
<line x1="1418.4" y1="1048.2" x2="1362.6" y2="935.3" stroke="#000" stroke-width="2.6"/>
<polygon points="1346.4,903 1353.4,939.6 1370.8,931.2" fill="#000"/>
<text><tspan x="1409.4" y="1117.4" textLength="37.54" lengthAdjust="spacingAndGlyphs" style="font-size:64.5px;font-weight:normal;">λ</tspan><tspan x="1447" y="1137.9" style="font-size:57px;">(F-P)</tspan> <tspan x="1588" y="1117.2" textLength="45.34" lengthAdjust="spacingAndGlyphs" style="font-size:68px;">=</tspan> <tspan x="1646.6" y="1117.2" style="font-size:68px;">975</tspan> <tspan x="1768.4" y="1117.2" textLength="89.27" lengthAdjust="spacingAndGlyphs" style="font-size:68px;">nm</tspan></text>
</svg>
</body></html>
